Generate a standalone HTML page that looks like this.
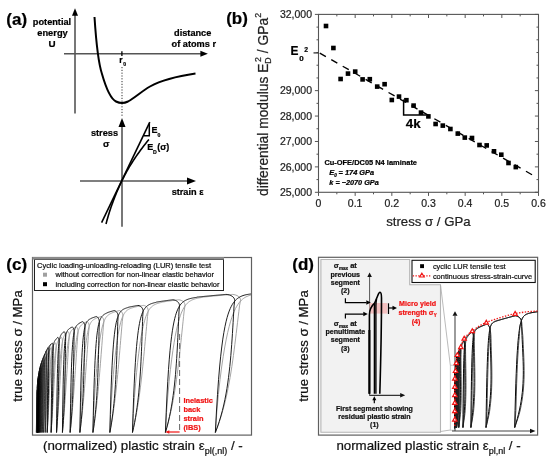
<!DOCTYPE html>
<html><head><meta charset="utf-8"><style>
html,body{margin:0;padding:0;background:#fff;}
svg{display:block;font-family:'Liberation Sans', Arial, sans-serif;filter:blur(0.3px);}
</style></head><body>
<svg width="550" height="461" viewBox="0 0 550 461">
<defs><clipPath id="clipc"><rect x="33" y="258" width="218" height="176"/></clipPath><clipPath id="clipd"><rect x="441" y="258" width="96.5" height="176"/></clipPath></defs>
<text x="6.3" y="25.3" font-size="17" font-weight="bold" text-anchor="start" fill="#000"  stroke="#000" stroke-width="0.22">(a)</text>
<text x="52" y="24.5" font-size="9.2" font-weight="bold" text-anchor="middle" fill="#000"  stroke="#000" stroke-width="0.22">potential</text>
<text x="52.5" y="35.8" font-size="9.3" font-weight="bold" text-anchor="middle" fill="#000"  stroke="#000" stroke-width="0.22">energy</text>
<text x="52" y="47" font-size="9.8" font-weight="bold" text-anchor="middle" fill="#000"  stroke="#000" stroke-width="0.22">U</text>
<line x1="75" y1="113.5" x2="75" y2="15" stroke="#555" stroke-width="1.6"/>
<path d="M75,8.3 L72.0,15.8 L78.0,15.8 Z" fill="#000"/>
<line x1="64" y1="53.7" x2="201" y2="53.7" stroke="#555" stroke-width="1.6"/>
<path d="M207.9,53.7 L200.4,50.7 L200.4,56.7 Z" fill="#000"/>
<line x1="121.9" y1="51.3" x2="121.9" y2="56" stroke="#000" stroke-width="1.3"/>
<text x="119.2" y="63" font-size="8.5" font-weight="bold" text-anchor="start" fill="#000"  stroke="#000" stroke-width="0.22">r</text>
<text x="123.2" y="65.5" font-size="5" font-weight="bold" text-anchor="start" fill="#000"  stroke="#000" stroke-width="0.22">0</text>
<line x1="122" y1="67" x2="122" y2="117" stroke="#333" stroke-width="1" stroke-dasharray="1.2,1.6"/>
<path d="M94.5,17 C96,40 98,62 102,74 C106,88 111,99 116,101.5 C119,103 124,103.5 128,101.5 C136,97 142,91 150,86.5 C162,80 176,76.5 195.5,73.6" fill="none" stroke="#000" stroke-width="2"/>
<text x="192.7" y="35.9" font-size="9.2" font-weight="bold" text-anchor="middle" fill="#000"  stroke="#000" stroke-width="0.22">distance</text>
<text x="193.8" y="47.4" font-size="9.2" font-weight="bold" text-anchor="middle" fill="#000"  stroke="#000" stroke-width="0.22">of atoms r</text>
<line x1="122" y1="226.7" x2="122" y2="126" stroke="#555" stroke-width="1.6"/>
<path d="M122,118 L118.5,127 L125.5,127 Z" fill="#000"/>
<line x1="80" y1="181" x2="188" y2="181" stroke="#555" stroke-width="1.6"/>
<path d="M196,181 L187,177.5 L187,184.5 Z" fill="#000"/>
<text x="104.5" y="136.2" font-size="9.2" font-weight="bold" text-anchor="middle" fill="#000"  stroke="#000" stroke-width="0.22">stress</text>
<text x="106.2" y="147" font-size="9.5" font-weight="bold" text-anchor="middle" fill="#000"  stroke="#000" stroke-width="0.22">σ</text>
<text x="187.6" y="194.8" font-size="9.2" font-weight="bold" text-anchor="middle" fill="#000"  stroke="#000" stroke-width="0.22">strain ε</text>
<path d="M101.6,222.6 L149.8,122.1" stroke="#000" stroke-width="1.6" fill="none"/>
<polyline points="106.02,224.00 106.57,221.89 107.14,219.78 107.74,217.66 108.36,215.55 109.00,213.44 109.67,211.32 110.36,209.21 111.07,207.10 111.81,204.99 112.57,202.88 113.35,200.76 114.16,198.65 114.99,196.54 115.84,194.43 116.71,192.31 117.61,190.20 118.54,188.09 119.48,185.97 120.45,183.86 121.44,181.75 122.46,179.64 123.52,177.53 124.61,175.41 125.74,173.30 126.90,171.19 128.11,169.07 129.35,166.96 130.63,164.85 131.95,162.74 133.30,160.62 134.70,158.51 136.13,156.40 137.59,154.29 139.10,152.18 140.64,150.06 142.22,147.95 143.84,145.84 145.49,143.72 147.18,141.61 148.91,139.50" stroke="#000" stroke-width="1.6" fill="none"/>
<path d="M149.3,123.5 L149.3,135.8 L144,135.8" stroke="#000" stroke-width="1.5" fill="none"/>
<text x="151.5" y="133" font-size="9" font-weight="bold" text-anchor="start" fill="#000"  stroke="#000" stroke-width="0.22">E</text>
<text x="157.4" y="137.0" font-size="5.2" font-weight="bold" text-anchor="start" fill="#000"  stroke="#000" stroke-width="0.22">0</text>
<text x="147.3" y="150.4" font-size="9" font-weight="bold" text-anchor="start" fill="#000"  stroke="#000" stroke-width="0.22">E</text>
<text x="152.9" y="154.0" font-size="5.2" font-weight="bold" text-anchor="start" fill="#000"  stroke="#000" stroke-width="0.22">D</text>
<text x="157.2" y="150.4" font-size="9" font-weight="bold" text-anchor="start" fill="#000"  stroke="#000" stroke-width="0.22">(σ)</text>
<text x="226.2" y="24" font-size="17" font-weight="bold" text-anchor="start" fill="#000"  stroke="#000" stroke-width="0.22">(b)</text>
<rect x="318.5" y="14.4" width="220.0" height="177.9" fill="none" stroke="#555" stroke-width="1.1"/>
<line x1="318.50" y1="192.3" x2="318.50" y2="195.9" stroke="#555" stroke-width="1"/>
<line x1="318.50" y1="14.4" x2="318.50" y2="18.0" stroke="#555" stroke-width="1"/>
<text x="318.50" y="207" font-size="10.5" font-weight="normal" text-anchor="middle" fill="#222"  stroke="#222" stroke-width="0.22">0</text>
<line x1="336.83" y1="192.3" x2="336.83" y2="194.3" stroke="#555" stroke-width="1"/>
<line x1="336.83" y1="14.4" x2="336.83" y2="16.4" stroke="#555" stroke-width="1"/>
<line x1="355.17" y1="192.3" x2="355.17" y2="195.9" stroke="#555" stroke-width="1"/>
<line x1="355.17" y1="14.4" x2="355.17" y2="18.0" stroke="#555" stroke-width="1"/>
<text x="355.17" y="207" font-size="10.5" font-weight="normal" text-anchor="middle" fill="#222"  stroke="#222" stroke-width="0.22">0.1</text>
<line x1="373.50" y1="192.3" x2="373.50" y2="194.3" stroke="#555" stroke-width="1"/>
<line x1="373.50" y1="14.4" x2="373.50" y2="16.4" stroke="#555" stroke-width="1"/>
<line x1="391.83" y1="192.3" x2="391.83" y2="195.9" stroke="#555" stroke-width="1"/>
<line x1="391.83" y1="14.4" x2="391.83" y2="18.0" stroke="#555" stroke-width="1"/>
<text x="391.83" y="207" font-size="10.5" font-weight="normal" text-anchor="middle" fill="#222"  stroke="#222" stroke-width="0.22">0.2</text>
<line x1="410.17" y1="192.3" x2="410.17" y2="194.3" stroke="#555" stroke-width="1"/>
<line x1="410.17" y1="14.4" x2="410.17" y2="16.4" stroke="#555" stroke-width="1"/>
<line x1="428.50" y1="192.3" x2="428.50" y2="195.9" stroke="#555" stroke-width="1"/>
<line x1="428.50" y1="14.4" x2="428.50" y2="18.0" stroke="#555" stroke-width="1"/>
<text x="428.50" y="207" font-size="10.5" font-weight="normal" text-anchor="middle" fill="#222"  stroke="#222" stroke-width="0.22">0.3</text>
<line x1="446.83" y1="192.3" x2="446.83" y2="194.3" stroke="#555" stroke-width="1"/>
<line x1="446.83" y1="14.4" x2="446.83" y2="16.4" stroke="#555" stroke-width="1"/>
<line x1="465.17" y1="192.3" x2="465.17" y2="195.9" stroke="#555" stroke-width="1"/>
<line x1="465.17" y1="14.4" x2="465.17" y2="18.0" stroke="#555" stroke-width="1"/>
<text x="465.17" y="207" font-size="10.5" font-weight="normal" text-anchor="middle" fill="#222"  stroke="#222" stroke-width="0.22">0.4</text>
<line x1="483.50" y1="192.3" x2="483.50" y2="194.3" stroke="#555" stroke-width="1"/>
<line x1="483.50" y1="14.4" x2="483.50" y2="16.4" stroke="#555" stroke-width="1"/>
<line x1="501.83" y1="192.3" x2="501.83" y2="195.9" stroke="#555" stroke-width="1"/>
<line x1="501.83" y1="14.4" x2="501.83" y2="18.0" stroke="#555" stroke-width="1"/>
<text x="501.83" y="207" font-size="10.5" font-weight="normal" text-anchor="middle" fill="#222"  stroke="#222" stroke-width="0.22">0.5</text>
<line x1="520.17" y1="192.3" x2="520.17" y2="194.3" stroke="#555" stroke-width="1"/>
<line x1="520.17" y1="14.4" x2="520.17" y2="16.4" stroke="#555" stroke-width="1"/>
<line x1="538.50" y1="192.3" x2="538.50" y2="195.9" stroke="#555" stroke-width="1"/>
<line x1="538.50" y1="14.4" x2="538.50" y2="18.0" stroke="#555" stroke-width="1"/>
<text x="538.50" y="207" font-size="10.5" font-weight="normal" text-anchor="middle" fill="#222"  stroke="#222" stroke-width="0.22">0.6</text>
<line x1="318.5" y1="192.30" x2="314.9" y2="192.30" stroke="#555" stroke-width="1"/>
<line x1="538.5" y1="192.30" x2="534.9" y2="192.30" stroke="#555" stroke-width="1"/>
<text x="312" y="196.00" font-size="10.5" font-weight="normal" text-anchor="end" fill="#222"  stroke="#222" stroke-width="0.22">25,000</text>
<line x1="318.5" y1="179.59" x2="316.5" y2="179.59" stroke="#555" stroke-width="1"/>
<line x1="538.5" y1="179.59" x2="536.5" y2="179.59" stroke="#555" stroke-width="1"/>
<line x1="318.5" y1="166.89" x2="314.9" y2="166.89" stroke="#555" stroke-width="1"/>
<line x1="538.5" y1="166.89" x2="534.9" y2="166.89" stroke="#555" stroke-width="1"/>
<text x="312" y="170.59" font-size="10.5" font-weight="normal" text-anchor="end" fill="#222"  stroke="#222" stroke-width="0.22">26,000</text>
<line x1="318.5" y1="154.18" x2="316.5" y2="154.18" stroke="#555" stroke-width="1"/>
<line x1="538.5" y1="154.18" x2="536.5" y2="154.18" stroke="#555" stroke-width="1"/>
<line x1="318.5" y1="141.47" x2="314.9" y2="141.47" stroke="#555" stroke-width="1"/>
<line x1="538.5" y1="141.47" x2="534.9" y2="141.47" stroke="#555" stroke-width="1"/>
<text x="312" y="145.17" font-size="10.5" font-weight="normal" text-anchor="end" fill="#222"  stroke="#222" stroke-width="0.22">27,000</text>
<line x1="318.5" y1="128.76" x2="316.5" y2="128.76" stroke="#555" stroke-width="1"/>
<line x1="538.5" y1="128.76" x2="536.5" y2="128.76" stroke="#555" stroke-width="1"/>
<line x1="318.5" y1="116.06" x2="314.9" y2="116.06" stroke="#555" stroke-width="1"/>
<line x1="538.5" y1="116.06" x2="534.9" y2="116.06" stroke="#555" stroke-width="1"/>
<text x="312" y="119.76" font-size="10.5" font-weight="normal" text-anchor="end" fill="#222"  stroke="#222" stroke-width="0.22">28,000</text>
<line x1="318.5" y1="103.35" x2="316.5" y2="103.35" stroke="#555" stroke-width="1"/>
<line x1="538.5" y1="103.35" x2="536.5" y2="103.35" stroke="#555" stroke-width="1"/>
<line x1="318.5" y1="90.64" x2="314.9" y2="90.64" stroke="#555" stroke-width="1"/>
<line x1="538.5" y1="90.64" x2="534.9" y2="90.64" stroke="#555" stroke-width="1"/>
<text x="312" y="94.34" font-size="10.5" font-weight="normal" text-anchor="end" fill="#222"  stroke="#222" stroke-width="0.22">29,000</text>
<line x1="318.5" y1="77.94" x2="316.5" y2="77.94" stroke="#555" stroke-width="1"/>
<line x1="538.5" y1="77.94" x2="536.5" y2="77.94" stroke="#555" stroke-width="1"/>
<line x1="318.5" y1="65.23" x2="316.5" y2="65.23" stroke="#555" stroke-width="1"/>
<line x1="538.5" y1="65.23" x2="536.5" y2="65.23" stroke="#555" stroke-width="1"/>
<line x1="318.5" y1="52.52" x2="316.5" y2="52.52" stroke="#555" stroke-width="1"/>
<line x1="538.5" y1="52.52" x2="536.5" y2="52.52" stroke="#555" stroke-width="1"/>
<line x1="318.5" y1="39.81" x2="316.5" y2="39.81" stroke="#555" stroke-width="1"/>
<line x1="538.5" y1="39.81" x2="536.5" y2="39.81" stroke="#555" stroke-width="1"/>
<line x1="318.5" y1="27.11" x2="316.5" y2="27.11" stroke="#555" stroke-width="1"/>
<line x1="538.5" y1="27.11" x2="536.5" y2="27.11" stroke="#555" stroke-width="1"/>
<line x1="318.5" y1="14.40" x2="314.9" y2="14.40" stroke="#555" stroke-width="1"/>
<line x1="538.5" y1="14.40" x2="534.9" y2="14.40" stroke="#555" stroke-width="1"/>
<text x="312" y="18.10" font-size="10.5" font-weight="normal" text-anchor="end" fill="#222"  stroke="#222" stroke-width="0.22">32,000</text>
<text x="290.6" y="55.3" font-size="11.9" font-weight="bold" text-anchor="start" fill="#000"  stroke="#000" stroke-width="0.22">E</text>
<text x="299.3" y="60.7" font-size="8" font-weight="bold" text-anchor="start" fill="#000"  stroke="#000" stroke-width="0.22">0</text>
<text x="304.3" y="51.8" font-size="6.8" font-weight="bold" text-anchor="start" fill="#000"  stroke="#000" stroke-width="0.22">2</text>
<line x1="318.5" y1="52.9" x2="313.5" y2="52.9" stroke="#333" stroke-width="1.3"/>
<line x1="319.8" y1="53.1" x2="532.7" y2="175.1" stroke="#000" stroke-width="1.35" stroke-dasharray="7,6.2"/>
<rect x="323.7" y="23.7" width="4.6" height="4.6" fill="#000"/>
<rect x="331.1" y="45.7" width="4.6" height="4.6" fill="#000"/>
<rect x="338.3" y="76.7" width="4.6" height="4.6" fill="#000"/>
<rect x="345.7" y="71.3" width="4.6" height="4.6" fill="#000"/>
<rect x="352.9" y="69.3" width="4.6" height="4.6" fill="#000"/>
<rect x="360.3" y="77.1" width="4.6" height="4.6" fill="#000"/>
<rect x="367.5" y="76.9" width="4.6" height="4.6" fill="#000"/>
<rect x="374.9" y="84.3" width="4.6" height="4.6" fill="#000"/>
<rect x="382.3" y="81.9" width="4.6" height="4.6" fill="#000"/>
<rect x="389.5" y="97.7" width="4.6" height="4.6" fill="#000"/>
<rect x="396.7" y="94.3" width="4.6" height="4.6" fill="#000"/>
<rect x="404.1" y="97.9" width="4.6" height="4.6" fill="#000"/>
<rect x="411.3" y="103.3" width="4.6" height="4.6" fill="#000"/>
<rect x="418.7" y="110.3" width="4.6" height="4.6" fill="#000"/>
<rect x="426.1" y="114.1" width="4.6" height="4.6" fill="#000"/>
<rect x="433.3" y="121.7" width="4.6" height="4.6" fill="#000"/>
<rect x="440.5" y="123.3" width="4.6" height="4.6" fill="#000"/>
<rect x="448.1" y="126.7" width="4.6" height="4.6" fill="#000"/>
<rect x="455.5" y="131.3" width="4.6" height="4.6" fill="#000"/>
<rect x="462.5" y="135.3" width="4.6" height="4.6" fill="#000"/>
<rect x="469.7" y="135.7" width="4.6" height="4.6" fill="#000"/>
<rect x="477.2" y="142.7" width="4.6" height="4.6" fill="#000"/>
<rect x="484.4" y="143.1" width="4.6" height="4.6" fill="#000"/>
<rect x="491.7" y="149.0" width="4.6" height="4.6" fill="#000"/>
<rect x="499.0" y="152.4" width="4.6" height="4.6" fill="#000"/>
<rect x="506.2" y="160.7" width="4.6" height="4.6" fill="#000"/>
<rect x="513.5" y="164.8" width="4.6" height="4.6" fill="#000"/>
<path d="M403.6,99.5 L403.6,115 L426,115" stroke="#000" stroke-width="1.5" fill="none"/>
<text x="405.8" y="128.3" font-size="13.4" font-weight="bold" text-anchor="start" fill="#000"  stroke="#000" stroke-width="0.22">4k</text>
<text x="324.4" y="164.5" font-size="8" font-weight="bold" text-anchor="start" fill="#000" textLength="92.6" lengthAdjust="spacingAndGlyphs" stroke="#000" stroke-width="0.22">Cu-OFE/DC05 N4 laminate</text>
<text x="329.3" y="175.1" font-size="7.5" font-weight="bold" text-anchor="start" fill="#000" font-style="italic"  stroke="#000" stroke-width="0.22">E</text>
<text x="334.3" y="177.3" font-size="4.5" font-weight="bold" text-anchor="start" fill="#000" font-style="italic"  stroke="#000" stroke-width="0.22">0</text>
<text x="338.6" y="175.1" font-size="7.4" font-weight="bold" text-anchor="start" fill="#000" font-style="italic"  stroke="#000" stroke-width="0.22">= 174 GPa</text>
<text x="329.3" y="185.1" font-size="7.3" font-weight="bold" text-anchor="start" fill="#000" font-style="italic"  stroke="#000" stroke-width="0.22">k = −2070 GPa</text>
<text x="428.4" y="225.9" font-size="13.2" font-weight="normal" text-anchor="middle" fill="#222"  stroke="#222" stroke-width="0.22">stress σ / GPa</text>
<text transform="translate(267.5,104.5) rotate(-90)" font-size="13.8" text-anchor="middle" fill="#222" stroke="#222" stroke-width="0.22">differential modulus E<tspan font-size="8.8" dy="3.2">D</tspan><tspan font-size="8.8" dy="-9.6" dx="-4.6">2</tspan><tspan dy="6.4"> / GPa</tspan><tspan font-size="8.8" dy="-6.4">2</tspan></text>
<text x="6.3" y="270" font-size="17" font-weight="bold" text-anchor="start" fill="#000"  stroke="#000" stroke-width="0.22">(c)</text>
<g clip-path="url(#clipc)">
<path d="M36.40,432.50 L37.51,396.57 L38.03,390.32 L38.10,390.36 L38.16,390.43 L38.21,390.52 L38.25,390.64 L38.29,390.78 L38.32,390.95 L38.33,391.13 L38.33,391.33 L38.26,393.04 L38.20,394.76 L38.13,396.48 L38.07,398.19 L38.01,399.91 L37.95,401.62 L37.89,403.34 L37.84,405.05 L37.78,406.77 L37.73,408.48 L37.67,410.20 L37.62,411.91 L37.57,413.63 L37.52,415.35 L37.47,417.06 L37.43,418.78 L37.38,420.49 L37.34,422.21 L37.29,423.92 L37.25,425.64 L37.21,427.35 L37.17,429.07 L37.13,430.78 L37.10,432.50 L37.18,425.90 L37.30,420.23 L37.42,415.34 L37.55,411.13 L37.66,407.51 L37.77,404.38 L37.87,401.67 L37.97,399.33 L38.05,397.30 L38.13,395.53 L38.20,393.99 L38.26,392.64 L38.32,391.46 L38.38,390.42 L38.43,389.50 L38.48,388.69 L38.52,387.96 L38.56,387.31 L38.60,386.72 L38.64,386.20 L38.67,385.72 L38.71,385.28 L38.74,384.87 L38.77,384.51 L38.80,384.18 L38.83,383.86 L38.86,383.57 L38.89,383.29 L38.91,383.04 L38.94,382.80 L38.97,382.57 L38.99,382.35 L39.02,382.14 L39.04,381.94 L39.06,381.76 L39.09,381.57 L39.11,381.39 L39.14,381.22 L39.16,381.06 L39.18,380.90 L38.35,387.97 L38.42,388.03 L38.47,388.13 L38.52,388.26 L38.55,388.41 L38.58,388.58 L38.59,388.77 L38.59,388.98 L38.52,390.79 L38.45,392.60 L38.38,394.42 L38.31,396.23 L38.24,398.04 L38.18,399.86 L38.11,401.67 L38.05,403.48 L37.99,405.30 L37.93,407.11 L37.87,408.93 L37.82,410.74 L37.76,412.55 L37.71,414.37 L37.65,416.18 L37.60,417.99 L37.55,419.81 L37.50,421.62 L37.45,423.43 L37.40,425.25 L37.36,427.06 L37.31,428.87 L37.27,430.69 L37.23,432.50 L37.32,425.65 L37.44,419.76 L37.57,414.70 L37.70,410.35 L37.82,406.60 L37.93,403.36 L38.04,400.56 L38.14,398.14 L38.22,396.04 L38.30,394.22 L38.38,392.63 L38.44,391.25 L38.51,390.04 L38.56,388.97 L38.62,388.03 L38.66,387.22 L38.71,386.49 L38.75,385.84 L38.79,385.26 L38.83,384.74 L38.86,384.28 L38.89,383.86 L38.93,383.48 L38.96,383.13 L38.99,382.81 L39.01,382.52 L39.04,382.25 L39.07,382.00 L39.10,381.76 L39.12,381.53 L39.15,381.33 L39.17,381.13 L39.19,380.94 L39.22,380.76 L39.24,380.59 L39.27,380.42 L39.29,380.27 L39.31,380.11 L39.33,379.96 L39.36,379.81 L38.66,385.38 L38.72,385.45 L38.78,385.55 L38.83,385.68 L38.86,385.84 L38.89,386.02 L38.90,386.22 L38.90,386.44 L38.82,388.36 L38.74,390.28 L38.67,392.20 L38.59,394.12 L38.52,396.03 L38.45,397.95 L38.38,399.87 L38.31,401.79 L38.24,403.71 L38.18,405.63 L38.11,407.55 L38.05,409.47 L37.99,411.39 L37.93,413.31 L37.87,415.23 L37.81,417.15 L37.75,419.07 L37.70,420.98 L37.64,422.90 L37.59,424.82 L37.53,426.74 L37.48,428.66 L37.43,430.58 L37.39,432.50 L37.48,425.35 L37.61,419.21 L37.75,413.93 L37.88,409.39 L38.01,405.48 L38.13,402.11 L38.25,399.21 L38.35,396.70 L38.44,394.53 L38.53,392.65 L38.60,391.02 L38.67,389.61 L38.74,388.38 L38.80,387.30 L38.85,386.36 L38.90,385.53 L38.95,384.81 L38.99,384.16 L39.03,383.59 L39.07,383.08 L39.10,382.63 L39.14,382.22 L39.17,381.85 L39.20,381.52 L39.23,381.22 L39.26,380.94 L39.29,380.68 L39.31,380.44 L39.34,380.22 L39.37,380.01 L39.39,379.82 L39.42,379.64 L39.44,379.46 L39.46,379.29 L39.49,379.13 L39.51,378.98 L39.54,378.83 L39.56,378.69 L39.58,378.54 L39.61,378.41 L39.03,382.46 L39.09,382.54 L39.15,382.65 L39.20,382.78 L39.24,382.95 L39.26,383.14 L39.27,383.35 L39.27,383.59 L39.18,385.62 L39.10,387.66 L39.01,389.70 L38.93,391.74 L38.85,393.78 L38.77,395.81 L38.69,397.85 L38.62,399.89 L38.54,401.93 L38.47,403.97 L38.40,406.00 L38.33,408.04 L38.26,410.08 L38.20,412.12 L38.13,414.16 L38.06,416.20 L38.00,418.23 L37.94,420.27 L37.87,422.31 L37.81,424.35 L37.75,426.39 L37.69,428.42 L37.63,430.46 L37.58,432.50 L37.68,425.02 L37.82,418.59 L37.97,413.07 L38.12,408.32 L38.26,404.24 L38.39,400.72 L38.51,397.69 L38.62,395.09 L38.73,392.83 L38.82,390.88 L38.90,389.19 L38.98,387.73 L39.05,386.46 L39.11,385.34 L39.17,384.37 L39.23,383.53 L39.28,382.78 L39.33,382.12 L39.37,381.53 L39.42,381.02 L39.46,380.56 L39.49,380.14 L39.53,379.76 L39.57,379.42 L39.60,379.12 L39.63,378.83 L39.66,378.57 L39.70,378.32 L39.73,378.10 L39.76,377.88 L39.79,377.68 L39.82,377.49 L39.84,377.30 L39.87,377.13 L39.90,376.96 L39.93,376.80 L39.96,376.64 L39.99,376.48 L40.01,376.33 L40.04,376.18 L39.44,379.74 L39.51,379.82 L39.57,379.94 L39.62,380.09 L39.66,380.26 L39.68,380.47 L39.70,380.69 L39.69,380.94 L39.59,383.09 L39.50,385.24 L39.41,387.39 L39.32,389.53 L39.23,391.68 L39.15,393.83 L39.06,395.98 L38.98,398.13 L38.90,400.28 L38.82,402.42 L38.74,404.57 L38.66,406.72 L38.59,408.87 L38.51,411.02 L38.44,413.17 L38.37,415.31 L38.29,417.46 L38.22,419.61 L38.15,421.76 L38.08,423.91 L38.01,426.06 L37.94,428.20 L37.87,430.35 L37.81,432.50 L37.92,424.69 L38.07,417.99 L38.24,412.23 L38.40,407.29 L38.55,403.04 L38.69,399.38 L38.83,396.24 L38.95,393.53 L39.06,391.19 L39.16,389.16 L39.25,387.41 L39.34,385.90 L39.41,384.58 L39.49,383.42 L39.55,382.42 L39.61,381.54 L39.67,380.76 L39.73,380.07 L39.78,379.47 L39.82,378.92 L39.87,378.44 L39.91,378.00 L39.96,377.60 L40.00,377.24 L40.04,376.91 L40.08,376.60 L40.11,376.32 L40.15,376.05 L40.19,375.80 L40.22,375.56 L40.26,375.34 L40.29,375.12 L40.33,374.92 L40.36,374.72 L40.40,374.52 L40.43,374.34 L40.46,374.16 L40.50,373.98 L40.53,373.81 L40.56,373.64 L39.92,377.18 L39.99,377.26 L40.05,377.39 L40.10,377.55 L40.14,377.74 L40.17,377.96 L40.18,378.20 L40.18,378.47 L40.07,380.72 L39.97,382.97 L39.87,385.22 L39.77,387.47 L39.68,389.73 L39.58,391.98 L39.49,394.23 L39.40,396.48 L39.31,398.73 L39.23,400.98 L39.14,403.23 L39.06,405.48 L38.97,407.74 L38.89,409.99 L38.81,412.24 L38.73,414.49 L38.65,416.74 L38.57,418.99 L38.49,421.24 L38.40,423.49 L38.32,425.75 L38.24,428.00 L38.17,430.25 L38.09,432.50 L38.21,424.37 L38.38,417.39 L38.56,411.41 L38.73,406.26 L38.90,401.84 L39.05,398.04 L39.20,394.76 L39.33,391.94 L39.45,389.50 L39.56,387.39 L39.67,385.55 L39.76,383.96 L39.85,382.58 L39.93,381.36 L40.00,380.30 L40.07,379.37 L40.14,378.54 L40.20,377.81 L40.26,377.15 L40.32,376.57 L40.37,376.04 L40.42,375.57 L40.47,375.14 L40.52,374.74 L40.57,374.37 L40.61,374.04 L40.66,373.73 L40.70,373.44 L40.74,373.16 L40.79,372.90 L40.83,372.66 L40.87,372.43 L40.91,372.20 L40.95,371.99 L40.99,371.78 L41.03,371.58 L41.07,371.39 L41.11,371.20 L41.15,371.02 L41.19,370.84 L40.48,374.40 L40.56,374.49 L40.62,374.63 L40.68,374.80 L40.72,375.01 L40.75,375.25 L40.76,375.51 L40.75,375.80 L40.64,378.16 L40.53,380.53 L40.42,382.89 L40.31,385.25 L40.21,387.61 L40.11,389.98 L40.01,392.34 L39.91,394.70 L39.81,397.06 L39.72,399.43 L39.62,401.79 L39.53,404.15 L39.44,406.51 L39.35,408.88 L39.25,411.24 L39.16,413.60 L39.07,415.96 L38.98,418.33 L38.89,420.69 L38.80,423.05 L38.71,425.41 L38.61,427.78 L38.52,430.14 L38.43,432.50 L38.57,424.03 L38.75,416.76 L38.94,410.52 L39.13,405.15 L39.32,400.53 L39.49,396.55 L39.64,393.11 L39.79,390.15 L39.93,387.58 L40.05,385.36 L40.17,383.43 L40.27,381.74 L40.37,380.28 L40.46,379.00 L40.55,377.87 L40.63,376.88 L40.70,376.01 L40.77,375.23 L40.84,374.54 L40.91,373.92 L40.97,373.37 L41.03,372.86 L41.09,372.41 L41.14,372.00 L41.20,371.62 L41.25,371.26 L41.30,370.94 L41.35,370.64 L41.40,370.36 L41.45,370.09 L41.50,369.84 L41.55,369.60 L41.60,369.38 L41.65,369.16 L41.69,368.95 L41.74,368.75 L41.79,368.56 L41.83,368.37 L41.88,368.19 L41.93,368.01 L41.16,371.30 L41.24,371.41 L41.31,371.56 L41.37,371.75 L41.41,371.97 L41.44,372.24 L41.45,372.53 L41.45,372.84 L41.32,375.33 L41.20,377.82 L41.08,380.30 L40.96,382.79 L40.85,385.27 L40.74,387.76 L40.63,390.24 L40.52,392.73 L40.42,395.22 L40.31,397.70 L40.21,400.19 L40.11,402.67 L40.01,405.16 L39.91,407.64 L39.80,410.13 L39.70,412.61 L39.60,415.10 L39.50,417.59 L39.40,420.07 L39.30,422.56 L39.19,425.04 L39.09,427.53 L38.98,430.01 L38.88,432.50 L39.02,423.62 L39.22,415.99 L39.44,409.44 L39.64,403.81 L39.84,398.96 L40.03,394.78 L40.21,391.18 L40.37,388.07 L40.52,385.38 L40.65,383.06 L40.78,381.04 L40.90,379.29 L41.00,377.76 L41.10,376.43 L41.20,375.27 L41.29,374.24 L41.37,373.34 L41.45,372.54 L41.53,371.84 L41.60,371.20 L41.67,370.64 L41.74,370.14 L41.80,369.68 L41.86,369.26 L41.93,368.89 L41.99,368.54 L42.04,368.22 L42.10,367.92 L42.16,367.64 L42.22,367.39 L42.27,367.14 L42.33,366.91 L42.38,366.69 L42.43,366.48 L42.49,366.28 L42.54,366.09 L42.59,365.90 L42.65,365.72 L42.70,365.55 L42.75,365.38 L41.96,368.19 L42.04,368.31 L42.12,368.47 L42.18,368.68 L42.22,368.94 L42.25,369.23 L42.27,369.55 L42.26,369.90 L42.12,372.51 L41.99,375.12 L41.86,377.72 L41.74,380.33 L41.62,382.94 L41.50,385.55 L41.38,388.16 L41.27,390.77 L41.15,393.37 L41.04,395.98 L40.93,398.59 L40.82,401.20 L40.71,403.81 L40.60,406.42 L40.49,409.02 L40.39,411.63 L40.28,414.24 L40.17,416.85 L40.06,419.46 L39.95,422.07 L39.83,424.67 L39.72,427.28 L39.61,429.89 L39.50,432.50 L39.65,423.12 L39.87,415.08 L40.10,408.19 L40.32,402.27 L40.54,397.18 L40.74,392.82 L40.93,389.06 L41.10,385.82 L41.26,383.03 L41.40,380.63 L41.54,378.55 L41.66,376.75 L41.78,375.18 L41.89,373.83 L41.99,372.64 L42.08,371.61 L42.17,370.70 L42.25,369.90 L42.33,369.20 L42.41,368.58 L42.48,368.02 L42.55,367.52 L42.62,367.07 L42.69,366.67 L42.75,366.30 L42.82,365.96 L42.88,365.65 L42.94,365.37 L43.00,365.10 L43.06,364.85 L43.12,364.61 L43.18,364.39 L43.23,364.18 L43.29,363.98 L43.35,363.79 L43.40,363.60 L43.46,363.43 L43.52,363.25 L43.57,363.08 L43.63,362.92 L42.90,365.21 L42.99,365.34 L43.07,365.52 L43.13,365.76 L43.18,366.04 L43.21,366.36 L43.23,366.72 L43.22,367.11 L43.07,369.84 L42.93,372.56 L42.79,375.29 L42.66,378.01 L42.53,380.74 L42.40,383.46 L42.28,386.19 L42.15,388.91 L42.03,391.63 L41.91,394.36 L41.79,397.08 L41.67,399.81 L41.56,402.53 L41.44,405.26 L41.32,407.98 L41.21,410.70 L41.09,413.43 L40.97,416.15 L40.85,418.88 L40.73,421.60 L40.61,424.33 L40.49,427.05 L40.37,429.78 L40.25,432.50 L40.42,422.65 L40.65,414.21 L40.90,406.99 L41.14,400.80 L41.37,395.49 L41.59,390.94 L41.79,387.03 L41.97,383.66 L42.14,380.77 L42.30,378.28 L42.44,376.13 L42.57,374.27 L42.70,372.66 L42.81,371.26 L42.92,370.05 L43.02,368.99 L43.11,368.06 L43.20,367.25 L43.29,366.53 L43.37,365.90 L43.45,365.34 L43.52,364.84 L43.60,364.38 L43.67,363.98 L43.74,363.61 L43.81,363.27 L43.87,362.97 L43.94,362.68 L44.00,362.42 L44.07,362.17 L44.13,361.94 L44.19,361.72 L44.25,361.51 L44.32,361.32 L44.38,361.13 L44.44,360.95 L44.50,360.77 L44.56,360.60 L44.62,360.44 L44.68,360.28 L44.01,362.17 L44.11,362.32 L44.20,362.53 L44.27,362.79 L44.32,363.11 L44.35,363.47 L44.37,363.88 L44.36,364.32 L44.19,367.16 L44.04,370.00 L43.90,372.84 L43.76,375.68 L43.62,378.52 L43.48,381.37 L43.35,384.21 L43.22,387.05 L43.09,389.89 L42.96,392.73 L42.83,395.57 L42.70,398.41 L42.58,401.25 L42.45,404.09 L42.33,406.93 L42.20,409.77 L42.07,412.61 L41.95,415.46 L41.82,418.30 L41.69,421.14 L41.56,423.98 L41.42,426.82 L41.29,429.66 L41.16,432.50 L41.34,422.18 L41.59,413.36 L41.86,405.80 L42.12,399.33 L42.37,393.79 L42.60,389.04 L42.81,384.97 L43.01,381.46 L43.20,378.45 L43.36,375.86 L43.52,373.63 L43.66,371.71 L43.79,370.04 L43.92,368.60 L44.03,367.34 L44.14,366.25 L44.24,365.30 L44.34,364.46 L44.43,363.73 L44.52,363.08 L44.60,362.50 L44.69,361.99 L44.77,361.53 L44.84,361.12 L44.92,360.75 L44.99,360.41 L45.06,360.10 L45.14,359.81 L45.21,359.54 L45.28,359.30 L45.34,359.06 L45.41,358.85 L45.48,358.64 L45.55,358.44 L45.61,358.25 L45.68,358.07 L45.75,357.89 L45.81,357.72 L45.88,357.56 L45.94,357.40 L45.35,358.97 L45.45,359.14 L45.55,359.38 L45.62,359.68 L45.68,360.04 L45.72,360.45 L45.73,360.91 L45.72,361.42 L45.54,364.38 L45.38,367.34 L45.23,370.30 L45.08,373.26 L44.93,376.23 L44.78,379.19 L44.64,382.15 L44.50,385.11 L44.36,388.07 L44.22,391.04 L44.08,394.00 L43.94,396.96 L43.81,399.92 L43.67,402.88 L43.54,405.84 L43.40,408.81 L43.27,411.77 L43.13,414.73 L42.99,417.69 L42.85,420.65 L42.70,423.61 L42.55,426.58 L42.41,429.54 L42.26,432.50 L42.46,421.70 L42.74,412.47 L43.02,404.56 L43.30,397.80 L43.57,392.01 L43.82,387.05 L44.05,382.80 L44.27,379.15 L44.46,376.01 L44.65,373.31 L44.81,370.99 L44.97,368.98 L45.11,367.25 L45.24,365.75 L45.37,364.45 L45.49,363.32 L45.60,362.33 L45.70,361.47 L45.80,360.71 L45.90,360.04 L45.99,359.44 L46.08,358.91 L46.17,358.44 L46.25,358.01 L46.34,357.63 L46.42,357.28 L46.50,356.96 L46.58,356.66 L46.65,356.39 L46.73,356.13 L46.81,355.89 L46.88,355.67 L46.96,355.45 L47.03,355.25 L47.10,355.05 L47.18,354.86 L47.25,354.68 L47.32,354.51 L47.39,354.33 L47.47,354.16 L46.95,355.50 L47.07,355.69 L47.17,355.96 L47.25,356.31 L47.32,356.72 L47.36,357.20 L47.37,357.73 L47.35,358.30 L47.16,361.40 L46.99,364.49 L46.83,367.58 L46.66,370.67 L46.50,373.76 L46.35,376.85 L46.19,379.94 L46.04,383.04 L45.89,386.13 L45.74,389.22 L45.59,392.31 L45.45,395.40 L45.30,398.49 L45.15,401.59 L45.01,404.68 L44.86,407.77 L44.71,410.86 L44.56,413.95 L44.41,417.04 L44.25,420.13 L44.09,423.23 L43.93,426.32 L43.77,429.41 L43.61,432.50 L43.83,421.19 L44.12,411.51 L44.43,403.24 L44.73,396.16 L45.02,390.10 L45.29,384.91 L45.55,380.45 L45.78,376.63 L45.99,373.35 L46.19,370.53 L46.37,368.10 L46.54,366.00 L46.70,364.19 L46.85,362.62 L46.98,361.26 L47.11,360.07 L47.23,359.04 L47.35,358.14 L47.46,357.34 L47.57,356.64 L47.67,356.02 L47.77,355.47 L47.87,354.98 L47.96,354.53 L48.05,354.13 L48.14,353.77 L48.23,353.43 L48.32,353.13 L48.40,352.85 L48.49,352.58 L48.57,352.34 L48.65,352.10 L48.74,351.88 L48.82,351.68 L48.90,351.48 L48.98,351.29 L49.06,351.10 L49.14,350.92 L49.22,350.75 L49.30,350.59 L48.89,351.64 L49.02,351.86 L49.13,352.17 L49.22,352.57 L49.29,353.05 L49.33,353.60 L49.35,354.21 L49.33,354.88 L49.12,358.11 L48.94,361.34 L48.76,364.58 L48.58,367.81 L48.41,371.05 L48.24,374.28 L48.07,377.52 L47.91,380.75 L47.75,383.98 L47.58,387.22 L47.42,390.45 L47.27,393.69 L47.11,396.92 L46.95,400.16 L46.79,403.39 L46.62,406.63 L46.46,409.86 L46.30,413.09 L46.13,416.33 L45.95,419.56 L45.78,422.80 L45.60,426.03 L45.42,429.27 L45.24,432.50 L45.48,420.61 L45.80,410.45 L46.14,401.76 L46.47,394.33 L46.78,387.97 L47.08,382.52 L47.35,377.84 L47.61,373.83 L47.84,370.39 L48.06,367.43 L48.26,364.89 L48.44,362.69 L48.62,360.80 L48.78,359.15 L48.93,357.74 L49.07,356.50 L49.21,355.43 L49.33,354.49 L49.46,353.66 L49.58,352.94 L49.69,352.31 L49.80,351.74 L49.91,351.24 L50.01,350.79 L50.11,350.38 L50.21,350.02 L50.31,349.69 L50.41,349.38 L50.50,349.11 L50.60,348.86 L50.69,348.62 L50.78,348.40 L50.87,348.20 L50.96,348.01 L51.05,347.83 L51.14,347.66 L51.23,347.50 L51.32,347.34 L51.41,347.20 L51.50,347.06 L52.85,345.40 L54.18,344.18" fill="none" stroke="#9a9a9a" stroke-width="0.6" stroke-linejoin="round"/>
<path d="M36.40,432.50 L37.91,391.55 L38.68,384.55 L39.40,379.52 L40.05,376.07 L40.69,372.97 L41.32,370.22 L41.93,367.91 L42.53,365.96 L43.12,364.22 L43.70,362.64 L44.28,361.16 L44.85,359.77 L45.42,358.45 L45.99,357.19 L46.56,355.96 L47.12,354.77 L47.69,353.60 L48.25,352.47 L48.82,351.38 L49.38,350.34 L49.93,349.35 L50.49,348.42 L51.04,347.58 L51.20,347.71 L51.35,347.97 L51.48,348.33 L51.58,348.80 L51.66,349.35 L51.70,349.99 L51.72,350.70 L51.69,351.48 L51.46,354.85 L51.27,358.23 L51.07,361.61 L50.89,364.98 L50.70,368.36 L50.52,371.73 L50.34,375.11 L50.16,378.49 L49.98,381.86 L49.81,385.24 L49.63,388.61 L49.46,391.99 L49.29,395.36 L49.11,398.74 L48.94,402.12 L48.76,405.49 L48.58,408.87 L48.40,412.24 L48.21,415.62 L48.02,419.00 L47.83,422.37 L47.63,425.75 L47.42,429.12 L47.22,432.50 L47.48,420.01 L47.83,409.33 L48.20,400.21 L48.56,392.41 L48.91,385.74 L49.23,380.03 L49.53,375.15 L49.81,370.96 L50.07,367.38 L50.30,364.31 L50.52,361.66 L50.72,359.40 L50.91,357.45 L51.09,355.77 L51.25,354.33 L51.41,353.08 L51.56,352.00 L51.70,351.07 L51.83,350.26 L51.96,349.55 L52.09,348.94 L52.21,348.40 L52.32,347.93 L52.44,347.51 L52.55,347.15 L52.66,346.82 L52.77,346.53 L52.87,346.27 L52.98,346.04 L53.08,345.82 L53.18,345.63 L53.29,345.46 L53.39,345.29 L53.49,345.14 L53.59,345.00 L53.69,344.87 L53.79,344.74 L53.88,344.62 L53.98,344.51 L54.08,344.40 L54.74,343.67 L55.39,343.05 L55.59,343.23 L55.77,343.55 L55.92,344.01 L56.05,344.61 L56.14,345.32 L56.19,346.13 L56.20,347.04 L56.17,348.03 L55.91,351.55 L55.70,355.07 L55.49,358.59 L55.28,362.11 L55.08,365.63 L54.88,369.15 L54.68,372.67 L54.49,376.19 L54.29,379.70 L54.10,383.22 L53.91,386.74 L53.71,390.26 L53.52,393.78 L53.32,397.30 L53.13,400.82 L52.92,404.34 L52.72,407.86 L52.51,411.38 L52.29,414.90 L52.07,418.42 L51.84,421.94 L51.60,425.46 L51.36,428.98 L51.11,432.50 L51.41,419.28 L51.81,408.01 L52.22,398.39 L52.63,390.17 L53.01,383.16 L53.38,377.17 L53.72,372.05 L54.03,367.67 L54.32,363.93 L54.59,360.71 L54.84,357.96 L55.07,355.60 L55.29,353.56 L55.50,351.82 L55.69,350.31 L55.87,349.01 L56.05,347.89 L56.21,346.91 L56.37,346.06 L56.53,345.32 L56.68,344.67 L56.82,344.11 L56.96,343.60 L57.10,343.16 L57.24,342.76 L57.37,342.41 L57.50,342.09 L57.64,341.80 L57.76,341.54 L57.89,341.30 L58.02,341.08 L58.15,340.87 L58.27,340.68 L58.40,340.50 L58.52,340.33 L58.64,340.17 L58.77,340.01 L58.89,339.87 L59.01,339.72 L59.13,339.58 L59.91,338.73 L60.67,338.03 L61.44,337.33 L61.69,337.54 L61.91,337.93 L62.11,338.49 L62.26,339.20 L62.38,340.06 L62.45,341.04 L62.46,342.13 L62.43,343.33 L62.12,347.04 L61.88,350.76 L61.65,354.47 L61.42,358.19 L61.19,361.90 L60.97,365.62 L60.75,369.34 L60.53,373.05 L60.31,376.77 L60.09,380.48 L59.87,384.20 L59.65,387.91 L59.43,391.63 L59.20,395.34 L58.97,399.06 L58.73,402.78 L58.49,406.49 L58.24,410.21 L57.98,413.92 L57.71,417.64 L57.44,421.35 L57.15,425.07 L56.85,428.78 L56.54,432.50 L56.89,418.46 L57.34,406.48 L57.82,396.25 L58.28,387.52 L58.73,380.05 L59.15,373.67 L59.54,368.22 L59.91,363.55 L60.25,359.55 L60.56,356.12 L60.86,353.18 L61.13,350.65 L61.39,348.47 L61.64,346.59 L61.87,344.97 L62.09,343.57 L62.31,342.35 L62.51,341.29 L62.71,340.37 L62.90,339.56 L63.08,338.85 L63.26,338.22 L63.44,337.66 L63.62,337.17 L63.79,336.73 L63.96,336.33 L64.12,335.97 L64.29,335.64 L64.45,335.34 L64.61,335.07 L64.77,334.81 L64.93,334.57 L65.09,334.35 L65.25,334.15 L65.40,333.95 L65.56,333.76 L65.72,333.59 L65.87,333.42 L66.03,333.26 L66.18,333.10 L67.08,332.24 L67.97,331.59 L68.28,331.79 L68.56,332.19 L68.80,332.75 L69.00,333.46 L69.15,334.32 L69.24,335.30 L69.28,336.39 L69.24,337.59 L68.89,341.54 L68.63,345.49 L68.37,349.45 L68.11,353.40 L67.85,357.36 L67.60,361.31 L67.35,365.27 L67.10,369.22 L66.85,373.18 L66.61,377.13 L66.36,381.09 L66.10,385.04 L65.85,389.00 L65.59,392.95 L65.32,396.91 L65.05,400.86 L64.76,404.82 L64.47,408.77 L64.16,412.73 L63.84,416.68 L63.51,420.64 L63.16,424.59 L62.80,428.55 L62.43,432.50 L62.83,417.61 L63.34,404.90 L63.88,394.05 L64.41,384.78 L64.92,376.87 L65.39,370.10 L65.84,364.32 L66.26,359.38 L66.65,355.15 L67.02,351.53 L67.36,348.43 L67.68,345.78 L67.98,343.50 L68.27,341.54 L68.54,339.85 L68.80,338.40 L69.05,337.15 L69.29,336.07 L69.53,335.14 L69.75,334.32 L69.97,333.62 L70.19,333.00 L70.40,332.46 L70.61,331.99 L70.81,331.57 L71.01,331.20 L71.21,330.87 L71.41,330.57 L71.61,330.31 L71.80,330.07 L71.99,329.85 L72.18,329.65 L72.37,329.47 L72.56,329.30 L72.75,329.14 L72.94,328.99 L73.13,328.85 L73.32,328.72 L73.51,328.59 L73.69,328.47 L74.59,327.86 L75.47,327.41 L76.36,326.96 L76.75,327.17 L77.10,327.56 L77.40,328.12 L77.66,328.84 L77.85,329.69 L77.98,330.68 L78.03,331.77 L78.00,332.96 L77.61,337.11 L77.32,341.26 L77.03,345.40 L76.74,349.55 L76.46,353.70 L76.18,357.85 L75.90,361.99 L75.62,366.14 L75.34,370.29 L75.06,374.44 L74.78,378.58 L74.49,382.73 L74.20,386.88 L73.90,391.03 L73.59,395.17 L73.27,399.32 L72.94,403.47 L72.59,407.62 L72.23,411.76 L71.85,415.91 L71.45,420.06 L71.02,424.21 L70.58,428.35 L70.12,432.50 L70.58,416.89 L71.16,403.57 L71.77,392.22 L72.37,382.53 L72.94,374.26 L73.49,367.20 L74.00,361.17 L74.48,356.02 L74.93,351.61 L75.35,347.84 L75.74,344.61 L76.12,341.85 L76.47,339.47 L76.81,337.43 L77.14,335.67 L77.45,334.16 L77.75,332.85 L78.03,331.72 L78.32,330.73 L78.59,329.88 L78.86,329.13 L79.12,328.48 L79.38,327.90 L79.63,327.40 L79.88,326.95 L80.13,326.54 L80.38,326.19 L80.62,325.86 L80.86,325.57 L81.10,325.30 L81.34,325.06 L81.58,324.83 L81.82,324.62 L82.05,324.42 L82.29,324.24 L82.53,324.07 L82.76,323.90 L82.99,323.74 L83.23,323.60 L83.46,323.45 L84.35,322.85 L85.23,322.43 L86.11,322.03 L86.99,321.63 L87.48,321.84 L87.92,322.23 L88.30,322.79 L88.63,323.51 L88.88,324.36 L89.05,325.35 L89.13,326.44 L89.11,327.63 L88.67,332.00 L88.34,336.37 L88.01,340.74 L87.69,345.11 L87.37,349.48 L87.06,353.85 L86.74,358.22 L86.43,362.59 L86.11,366.96 L85.79,371.33 L85.47,375.70 L85.14,380.07 L84.80,384.44 L84.46,388.81 L84.09,393.17 L83.72,397.54 L83.33,401.91 L82.91,406.28 L82.48,410.65 L82.02,415.02 L81.53,419.39 L81.01,423.76 L80.46,428.13 L79.89,432.50 L80.43,416.11 L81.10,402.13 L81.79,390.21 L82.47,380.03 L83.13,371.34 L83.75,363.92 L84.34,357.58 L84.90,352.17 L85.42,347.54 L85.91,343.57 L86.38,340.18 L86.82,337.28 L87.24,334.78 L87.65,332.65 L88.03,330.81 L88.41,329.23 L88.77,327.86 L89.12,326.69 L89.46,325.67 L89.79,324.79 L90.12,324.02 L90.44,323.35 L90.76,322.77 L91.07,322.25 L91.38,321.80 L91.68,321.40 L91.98,321.04 L92.28,320.72 L92.58,320.44 L92.88,320.18 L93.17,319.95 L93.47,319.73 L93.76,319.54 L94.05,319.35 L94.35,319.18 L94.64,319.02 L94.93,318.87 L95.22,318.73 L95.50,318.60 L95.79,318.47 L96.55,318.03 L97.30,317.78 L98.05,317.53 L98.80,317.27 L99.55,317.02 L100.30,316.77 L101.05,316.52 L101.67,316.73 L102.23,317.12 L102.73,317.68 L103.15,318.39 L103.48,319.25 L103.71,320.23 L103.83,321.32 L103.82,322.52 L103.31,327.10 L102.94,331.68 L102.57,336.26 L102.21,340.85 L101.85,345.43 L101.49,350.01 L101.14,354.60 L100.78,359.18 L100.42,363.76 L100.06,368.34 L99.68,372.93 L99.30,377.51 L98.91,382.09 L98.50,386.67 L98.08,391.26 L97.63,395.84 L97.16,400.42 L96.66,405.00 L96.13,409.59 L95.57,414.17 L94.97,418.75 L94.33,423.33 L93.64,427.92 L92.92,432.50 L93.55,415.34 L94.32,400.70 L95.12,388.22 L95.91,377.57 L96.67,368.49 L97.39,360.73 L98.08,354.11 L98.73,348.45 L99.34,343.62 L99.92,339.48 L100.48,335.94 L101.01,332.90 L101.51,330.30 L102.00,328.06 L102.47,326.14 L102.92,324.48 L103.37,323.05 L103.80,321.82 L104.22,320.74 L104.63,319.81 L105.04,319.00 L105.44,318.29 L105.83,317.66 L106.22,317.11 L106.61,316.62 L106.99,316.19 L107.37,315.80 L107.75,315.45 L108.12,315.13 L108.50,314.85 L108.87,314.58 L109.24,314.34 L109.61,314.12 L109.98,313.91 L110.35,313.71 L110.72,313.53 L111.08,313.35 L111.45,313.19 L111.82,313.03 L112.18,312.88 L112.98,312.43 L113.77,312.18 L114.56,311.93 L115.35,311.69 L116.14,311.46 L116.93,311.22 L117.71,311.00 L118.50,310.77 L119.29,310.56 L120.07,310.77 L120.79,311.16 L121.43,311.72 L121.97,312.44 L122.40,313.29 L122.71,314.28 L122.87,315.37 L122.88,316.56 L122.29,321.40 L121.87,326.23 L121.46,331.06 L121.04,335.89 L120.63,340.72 L120.23,345.55 L119.82,350.38 L119.41,355.21 L118.99,360.04 L118.57,364.87 L118.13,369.70 L117.68,374.53 L117.22,379.36 L116.73,384.19 L116.23,389.02 L115.69,393.85 L115.12,398.69 L114.51,403.52 L113.86,408.35 L113.16,413.18 L112.42,418.01 L111.62,422.84 L110.76,427.67 L109.85,432.50 L110.60,414.46 L111.50,399.08 L112.43,385.95 L113.34,374.76 L114.23,365.21 L115.08,357.05 L115.89,350.09 L116.66,344.14 L117.39,339.06 L118.09,334.71 L118.76,330.99 L119.40,327.81 L120.01,325.09 L120.61,322.75 L121.18,320.74 L121.74,319.02 L122.29,317.53 L122.82,316.25 L123.34,315.15 L123.85,314.19 L124.36,313.36 L124.86,312.64 L125.35,312.01 L125.84,311.46 L126.33,310.97 L126.81,310.55 L127.29,310.17 L127.76,309.83 L128.23,309.53 L128.70,309.26 L129.17,309.02 L129.64,308.80 L130.11,308.59 L130.57,308.41 L131.04,308.24 L131.50,308.07 L131.97,307.93 L132.43,307.79 L132.89,307.65 L133.35,307.52 L134.09,307.18 L134.81,307.04 L135.54,306.90 L136.26,306.76 L136.98,306.62 L137.71,306.48 L138.43,306.34 L139.15,306.20 L139.88,306.07 L140.60,305.93 L141.32,305.80 L142.05,305.67 L142.77,305.53 L143.49,305.40 L144.50,305.61 L145.43,306.00 L146.26,306.56 L146.97,307.28 L147.54,308.13 L147.95,309.11 L148.18,310.21 L148.20,311.40 L147.52,316.45 L147.04,321.49 L146.57,326.54 L146.10,331.59 L145.63,336.63 L145.16,341.68 L144.69,346.72 L144.22,351.77 L143.73,356.81 L143.24,361.86 L142.73,366.91 L142.20,371.95 L141.65,377.00 L141.07,382.04 L140.45,387.09 L139.80,392.13 L139.10,397.18 L138.35,402.23 L137.55,407.27 L136.68,412.32 L135.74,417.36 L134.73,422.41 L133.64,427.45 L132.47,432.50 L133.37,413.66 L134.43,397.61 L135.52,383.92 L136.60,372.25 L137.65,362.30 L138.65,353.81 L139.62,346.56 L140.54,340.38 L141.42,335.10 L142.26,330.58 L143.07,326.73 L143.85,323.43 L144.61,320.60 L145.34,318.18 L146.05,316.10 L146.75,314.31 L147.43,312.78 L148.10,311.45 L148.75,310.31 L149.40,309.32 L150.04,308.46 L150.67,307.71 L151.30,307.06 L151.92,306.49 L152.54,305.99 L153.15,305.55 L153.76,305.16 L154.37,304.81 L154.97,304.50 L155.57,304.22 L156.17,303.96 L156.77,303.73 L157.37,303.52 L157.97,303.33 L158.57,303.15 L159.16,302.98 L159.76,302.82 L160.35,302.68 L160.94,302.54 L161.54,302.40 L162.26,302.08 L162.97,301.97 L163.69,301.86 L164.40,301.75 L165.11,301.63 L165.82,301.53 L166.53,301.42 L167.25,301.31 L167.96,301.20 L168.67,301.10 L169.38,301.00 L170.09,300.90 L170.80,300.80 L171.51,300.69 L172.23,300.60 L172.94,300.50 L173.65,300.41 L174.36,300.31 L175.07,300.22 L175.78,300.13 L176.49,300.04 L177.20,299.95 L177.91,299.86 L178.62,299.77 L179.96,299.98 L181.20,300.37 L182.31,300.93 L183.26,301.64 L184.02,302.50 L184.58,303.48 L184.91,304.58 L184.97,305.77 L184.15,311.05 L183.59,316.33 L183.04,321.61 L182.49,326.89 L181.94,332.17 L181.40,337.45 L180.84,342.73 L180.28,348.01 L179.70,353.29 L179.11,358.57 L178.50,363.85 L177.86,369.13 L177.18,374.41 L176.47,379.70 L175.70,384.98 L174.89,390.26 L174.01,395.54 L173.06,400.82 L172.03,406.10 L170.91,411.38 L169.70,416.66 L168.38,421.94 L166.95,427.22 L165.41,432.50 L166.52,412.81 L167.81,396.03 L169.12,381.73 L170.43,369.54 L171.69,359.15 L172.92,350.29 L174.10,342.73 L175.23,336.28 L176.32,330.77 L177.37,326.08 L178.38,322.06 L179.37,318.63 L180.32,315.70 L181.25,313.19 L182.16,311.04 L183.05,309.20 L183.93,307.62 L184.79,306.26 L185.64,305.09 L186.48,304.08 L187.31,303.21 L188.14,302.46 L188.96,301.81 L189.77,301.24 L190.58,300.74 L191.38,300.31 L192.18,299.93 L192.98,299.59 L193.77,299.29 L194.56,299.03 L195.35,298.79 L196.14,298.57 L196.93,298.38 L197.72,298.20 L198.50,298.04 L199.29,297.89 L200.07,297.75 L200.85,297.62 L201.64,297.50 L202.42,297.38 L203.14,297.10 L203.86,297.03 L204.57,296.96 L205.28,296.89 L205.99,296.81 L206.70,296.75 L207.42,296.68 L208.13,296.61 L208.84,296.54 L209.55,296.47 L210.26,296.40 L210.97,296.33 L211.69,296.26 L212.40,296.19 L213.11,296.12 L213.82,296.06 L214.53,295.99 L215.24,295.92 L215.96,295.85 L216.67,295.79 L217.38,295.72 L218.09,295.65 L218.80,295.59 L219.51,295.52 L220.22,295.46 L220.94,295.39 L221.65,295.33 L222.36,295.26 L223.07,295.20 L223.78,295.13 L224.49,295.07 L225.20,295.01 L225.92,294.95 L226.63,294.88 L227.34,294.82 L228.05,294.76 L228.76,294.70 L229.47,294.64 L230.18,294.58 L230.89,294.52 L231.61,294.46 L232.32,294.40 L234.03,294.61 L235.62,295.00 L237.04,295.56 L238.26,296.28 L239.26,297.13 L239.99,298.11 L240.42,299.21 L240.52,300.40 L239.51,305.90 L238.85,311.41 L238.19,316.91 L237.54,322.42 L236.88,327.92 L236.22,333.43 L235.55,338.93 L234.86,344.43 L234.16,349.94 L233.43,355.44 L232.67,360.95 L231.86,366.45 L231.01,371.95 L230.10,377.46 L229.12,382.96 L228.06,388.47 L226.91,393.97 L225.66,399.48 L224.29,404.98 L222.81,410.48 L221.18,415.99 L219.41,421.49 L217.47,427.00 L215.37,432.50 L216.79,412.01 L218.39,394.55 L220.03,379.67 L221.65,366.99 L223.24,356.18 L224.78,346.97 L226.27,339.11 L227.71,332.41 L229.11,326.70 L230.46,321.82 L231.78,317.66 L233.06,314.10 L234.32,311.07 L235.54,308.48 L236.75,306.27 L237.94,304.37 L239.10,302.76 L240.26,301.38 L241.40,300.20 L242.53,299.19 L243.65,298.33 L244.76,297.59 L245.87,296.96 L246.97,296.43 L248.06,295.97 L249.15,295.57 L250.23,295.24 L251.32,294.95 L252.40,294.71 L253.47,294.50 L254.55,294.32 L255.62,294.16 L256.70,294.02 L257.77,293.89 L258.84,293.79 L259.91,293.71 L260.97,293.65 L262.04,293.60 L263.11,293.55 L264.17,293.52 L262.49,293.30 L260.79,293.30" fill="none" stroke="#9a9a9a" stroke-width="0.9" stroke-linejoin="round"/>
<path d="M36.40,432.50 L36.69,396.57 L36.98,390.32 L37.05,390.36 L37.11,390.43 L37.17,390.52 L37.22,390.64 L37.26,390.78 L37.29,390.95 L37.31,391.13 L37.32,391.33 L37.31,393.04 L37.31,394.76 L37.30,396.48 L37.30,398.19 L37.30,399.91 L37.29,401.62 L37.29,403.34 L37.28,405.05 L37.28,406.77 L37.28,408.48 L37.27,410.20 L37.26,411.91 L37.26,413.63 L37.25,415.35 L37.24,417.06 L37.23,418.78 L37.22,420.49 L37.21,422.21 L37.20,423.92 L37.18,425.64 L37.17,427.35 L37.15,429.07 L37.13,430.78 L37.10,432.50 L37.12,425.90 L37.14,420.23 L37.15,415.34 L37.17,411.13 L37.19,407.51 L37.20,404.38 L37.22,401.67 L37.23,399.33 L37.25,397.30 L37.27,395.53 L37.28,393.99 L37.30,392.64 L37.32,391.46 L37.33,390.42 L37.35,389.50 L37.37,388.69 L37.38,387.96 L37.40,387.31 L37.42,386.72 L37.43,386.20 L37.45,385.72 L37.47,385.28 L37.48,384.87 L37.50,384.51 L37.52,384.18 L37.53,383.86 L37.55,383.57 L37.56,383.29 L37.58,383.04 L37.60,382.80 L37.61,382.57 L37.63,382.35 L37.65,382.14 L37.66,381.94 L37.68,381.76 L37.70,381.57 L37.71,381.39 L37.73,381.22 L37.75,381.06 L37.76,380.90 L37.22,387.97 L37.28,388.03 L37.34,388.13 L37.39,388.26 L37.43,388.41 L37.46,388.58 L37.48,388.77 L37.49,388.98 L37.48,390.79 L37.48,392.60 L37.48,394.42 L37.47,396.23 L37.47,398.04 L37.46,399.86 L37.46,401.67 L37.45,403.48 L37.45,405.30 L37.44,407.11 L37.43,408.93 L37.43,410.74 L37.42,412.55 L37.41,414.37 L37.40,416.18 L37.39,417.99 L37.38,419.81 L37.36,421.62 L37.35,423.43 L37.33,425.25 L37.31,427.06 L37.29,428.87 L37.26,430.69 L37.23,432.50 L37.25,425.65 L37.26,419.76 L37.28,414.70 L37.30,410.35 L37.31,406.60 L37.33,403.36 L37.35,400.56 L37.36,398.14 L37.38,396.04 L37.40,394.22 L37.41,392.63 L37.43,391.25 L37.45,390.04 L37.46,388.97 L37.48,388.03 L37.50,387.22 L37.51,386.49 L37.53,385.84 L37.55,385.26 L37.56,384.74 L37.58,384.28 L37.59,383.86 L37.61,383.48 L37.63,383.13 L37.64,382.81 L37.66,382.52 L37.68,382.25 L37.69,382.00 L37.71,381.76 L37.73,381.53 L37.74,381.33 L37.76,381.13 L37.78,380.94 L37.79,380.76 L37.81,380.59 L37.83,380.42 L37.84,380.27 L37.86,380.11 L37.88,379.96 L37.89,379.81 L37.42,385.38 L37.49,385.45 L37.55,385.55 L37.60,385.68 L37.64,385.84 L37.68,386.02 L37.70,386.22 L37.70,386.44 L37.70,388.36 L37.69,390.28 L37.69,392.20 L37.68,394.12 L37.67,396.03 L37.67,397.95 L37.66,399.87 L37.66,401.79 L37.65,403.71 L37.64,405.63 L37.64,407.55 L37.63,409.47 L37.62,411.39 L37.61,413.31 L37.59,415.23 L37.58,417.15 L37.56,419.07 L37.55,420.98 L37.53,422.90 L37.51,424.82 L37.48,426.74 L37.45,428.66 L37.42,430.58 L37.39,432.50 L37.41,425.35 L37.42,419.21 L37.44,413.93 L37.46,409.39 L37.48,405.48 L37.49,402.11 L37.51,399.21 L37.53,396.70 L37.54,394.53 L37.56,392.65 L37.58,391.02 L37.60,389.61 L37.61,388.38 L37.63,387.30 L37.65,386.36 L37.67,385.53 L37.68,384.81 L37.70,384.16 L37.72,383.59 L37.74,383.08 L37.75,382.63 L37.77,382.22 L37.79,381.85 L37.80,381.52 L37.82,381.22 L37.84,380.94 L37.86,380.68 L37.87,380.44 L37.89,380.22 L37.91,380.01 L37.93,379.82 L37.94,379.64 L37.96,379.46 L37.98,379.29 L38.00,379.13 L38.01,378.98 L38.03,378.83 L38.05,378.69 L38.06,378.54 L38.08,378.41 L37.67,382.46 L37.74,382.54 L37.80,382.65 L37.85,382.78 L37.90,382.95 L37.93,383.14 L37.95,383.35 L37.96,383.59 L37.95,385.62 L37.95,387.66 L37.94,389.70 L37.93,391.74 L37.93,393.78 L37.92,395.81 L37.91,397.85 L37.91,399.89 L37.90,401.93 L37.89,403.97 L37.88,406.00 L37.87,408.04 L37.86,410.08 L37.84,412.12 L37.83,414.16 L37.81,416.20 L37.79,418.23 L37.77,420.27 L37.75,422.31 L37.72,424.35 L37.69,426.39 L37.66,428.42 L37.62,430.46 L37.58,432.50 L37.60,425.02 L37.62,418.59 L37.64,413.07 L37.66,408.32 L37.68,404.24 L37.71,400.72 L37.73,397.69 L37.75,395.09 L37.77,392.83 L37.79,390.88 L37.81,389.19 L37.83,387.73 L37.85,386.46 L37.87,385.34 L37.90,384.37 L37.92,383.53 L37.94,382.78 L37.96,382.12 L37.98,381.53 L38.00,381.02 L38.02,380.56 L38.04,380.14 L38.06,379.76 L38.08,379.42 L38.11,379.12 L38.13,378.83 L38.15,378.57 L38.17,378.32 L38.19,378.10 L38.21,377.88 L38.23,377.68 L38.25,377.49 L38.27,377.30 L38.30,377.13 L38.32,376.96 L38.34,376.80 L38.36,376.64 L38.38,376.48 L38.40,376.33 L38.42,376.18 L37.97,379.74 L38.04,379.82 L38.11,379.94 L38.16,380.09 L38.21,380.26 L38.25,380.47 L38.27,380.69 L38.28,380.94 L38.26,383.09 L38.26,385.24 L38.25,387.39 L38.24,389.53 L38.23,391.68 L38.22,393.83 L38.22,395.98 L38.21,398.13 L38.20,400.28 L38.19,402.42 L38.17,404.57 L38.16,406.72 L38.15,408.87 L38.13,411.02 L38.11,413.17 L38.09,415.31 L38.07,417.46 L38.04,419.61 L38.02,421.76 L37.98,423.91 L37.95,426.06 L37.91,428.20 L37.86,430.35 L37.81,432.50 L37.84,424.69 L37.86,417.99 L37.89,412.23 L37.91,407.29 L37.94,403.04 L37.96,399.38 L37.99,396.24 L38.02,393.53 L38.04,391.19 L38.07,389.16 L38.09,387.41 L38.12,385.90 L38.14,384.58 L38.17,383.42 L38.19,382.42 L38.22,381.54 L38.25,380.76 L38.27,380.07 L38.30,379.47 L38.32,378.92 L38.35,378.44 L38.37,378.00 L38.40,377.60 L38.42,377.24 L38.45,376.91 L38.48,376.60 L38.50,376.32 L38.53,376.05 L38.55,375.80 L38.58,375.56 L38.60,375.34 L38.63,375.12 L38.65,374.92 L38.68,374.72 L38.71,374.52 L38.73,374.34 L38.76,374.16 L38.78,373.98 L38.81,373.81 L38.83,373.64 L38.34,377.18 L38.41,377.26 L38.48,377.39 L38.54,377.55 L38.59,377.74 L38.63,377.96 L38.65,378.20 L38.66,378.47 L38.64,380.72 L38.63,382.97 L38.62,385.22 L38.61,387.47 L38.60,389.73 L38.59,391.98 L38.58,394.23 L38.57,396.48 L38.56,398.73 L38.55,400.98 L38.53,403.23 L38.52,405.48 L38.50,407.74 L38.48,409.99 L38.46,412.24 L38.43,414.49 L38.41,416.74 L38.38,418.99 L38.34,421.24 L38.30,423.49 L38.26,425.75 L38.21,428.00 L38.15,430.25 L38.09,432.50 L38.12,424.37 L38.15,417.39 L38.19,411.41 L38.22,406.26 L38.25,401.84 L38.28,398.04 L38.31,394.76 L38.34,391.94 L38.37,389.50 L38.40,387.39 L38.43,385.55 L38.46,383.96 L38.50,382.58 L38.53,381.36 L38.56,380.30 L38.59,379.37 L38.62,378.54 L38.65,377.81 L38.68,377.15 L38.71,376.57 L38.74,376.04 L38.78,375.57 L38.81,375.14 L38.84,374.74 L38.87,374.37 L38.90,374.04 L38.93,373.73 L38.96,373.44 L38.99,373.16 L39.02,372.90 L39.05,372.66 L39.09,372.43 L39.12,372.20 L39.15,371.99 L39.18,371.78 L39.21,371.58 L39.24,371.39 L39.27,371.20 L39.30,371.02 L39.33,370.84 L38.79,374.40 L38.86,374.49 L38.93,374.63 L39.00,374.80 L39.05,375.01 L39.09,375.25 L39.11,375.51 L39.12,375.80 L39.10,378.16 L39.09,380.53 L39.08,382.89 L39.07,385.25 L39.06,387.61 L39.04,389.98 L39.03,392.34 L39.02,394.70 L39.00,397.06 L38.99,399.43 L38.97,401.79 L38.95,404.15 L38.93,406.51 L38.91,408.88 L38.88,411.24 L38.85,413.60 L38.82,415.96 L38.78,418.33 L38.74,420.69 L38.69,423.05 L38.63,425.41 L38.57,427.78 L38.51,430.14 L38.43,432.50 L38.47,424.03 L38.51,416.76 L38.55,410.52 L38.58,405.15 L38.62,400.53 L38.66,396.55 L38.70,393.11 L38.74,390.15 L38.77,387.58 L38.81,385.36 L38.85,383.43 L38.89,381.74 L38.92,380.28 L38.96,379.00 L39.00,377.87 L39.04,376.88 L39.07,376.01 L39.11,375.23 L39.15,374.54 L39.19,373.92 L39.23,373.37 L39.26,372.86 L39.30,372.41 L39.34,372.00 L39.38,371.62 L39.41,371.26 L39.45,370.94 L39.49,370.64 L39.53,370.36 L39.56,370.09 L39.60,369.84 L39.64,369.60 L39.68,369.38 L39.72,369.16 L39.75,368.95 L39.79,368.75 L39.83,368.56 L39.87,368.37 L39.90,368.19 L39.94,368.01 L39.33,371.30 L39.41,371.41 L39.49,371.56 L39.55,371.75 L39.61,371.97 L39.65,372.24 L39.67,372.53 L39.68,372.84 L39.66,375.33 L39.65,377.82 L39.63,380.30 L39.62,382.79 L39.61,385.27 L39.59,387.76 L39.58,390.24 L39.56,392.73 L39.54,395.22 L39.53,397.70 L39.51,400.19 L39.48,402.67 L39.46,405.16 L39.43,407.64 L39.40,410.13 L39.36,412.61 L39.33,415.10 L39.28,417.59 L39.23,420.07 L39.18,422.56 L39.11,425.04 L39.04,427.53 L38.97,430.01 L38.88,432.50 L38.92,423.62 L38.97,415.99 L39.01,409.44 L39.06,403.81 L39.10,398.96 L39.14,394.78 L39.19,391.18 L39.23,388.07 L39.28,385.38 L39.32,383.06 L39.36,381.04 L39.41,379.29 L39.45,377.76 L39.50,376.43 L39.54,375.27 L39.59,374.24 L39.63,373.34 L39.67,372.54 L39.72,371.84 L39.76,371.20 L39.81,370.64 L39.85,370.14 L39.89,369.68 L39.94,369.26 L39.98,368.89 L40.03,368.54 L40.07,368.22 L40.11,367.92 L40.16,367.64 L40.20,367.39 L40.25,367.14 L40.29,366.91 L40.34,366.69 L40.38,366.48 L40.42,366.28 L40.47,366.09 L40.51,365.90 L40.56,365.72 L40.60,365.55 L40.64,365.38 L39.99,368.19 L40.07,368.31 L40.15,368.47 L40.22,368.68 L40.28,368.94 L40.33,369.23 L40.35,369.55 L40.36,369.90 L40.34,372.51 L40.33,375.12 L40.31,377.72 L40.30,380.33 L40.28,382.94 L40.27,385.55 L40.25,388.16 L40.23,390.77 L40.22,393.37 L40.20,395.98 L40.17,398.59 L40.15,401.20 L40.12,403.81 L40.09,406.42 L40.06,409.02 L40.02,411.63 L39.98,414.24 L39.93,416.85 L39.88,419.46 L39.82,422.07 L39.75,424.67 L39.67,427.28 L39.59,429.89 L39.50,432.50 L39.54,423.12 L39.59,415.08 L39.64,408.19 L39.69,402.27 L39.74,397.18 L39.78,392.82 L39.83,389.06 L39.88,385.82 L39.93,383.03 L39.97,380.63 L40.02,378.55 L40.07,376.75 L40.12,375.18 L40.16,373.83 L40.21,372.64 L40.26,371.61 L40.31,370.70 L40.36,369.90 L40.40,369.20 L40.45,368.58 L40.50,368.02 L40.55,367.52 L40.59,367.07 L40.64,366.67 L40.69,366.30 L40.74,365.96 L40.78,365.65 L40.83,365.37 L40.88,365.10 L40.93,364.85 L40.98,364.61 L41.02,364.39 L41.07,364.18 L41.12,363.98 L41.17,363.79 L41.21,363.60 L41.26,363.43 L41.31,363.25 L41.36,363.08 L41.40,362.92 L40.78,365.21 L40.88,365.34 L40.97,365.52 L41.04,365.76 L41.10,366.04 L41.15,366.36 L41.18,366.72 L41.19,367.11 L41.17,369.84 L41.15,372.56 L41.14,375.29 L41.12,378.01 L41.10,380.74 L41.09,383.46 L41.07,386.19 L41.05,388.91 L41.03,391.63 L41.01,394.36 L40.98,397.08 L40.96,399.81 L40.93,402.53 L40.90,405.26 L40.86,407.98 L40.82,410.70 L40.77,413.43 L40.72,416.15 L40.66,418.88 L40.60,421.60 L40.52,424.33 L40.44,427.05 L40.35,429.78 L40.25,432.50 L40.30,422.65 L40.35,414.21 L40.40,406.99 L40.45,400.80 L40.51,395.49 L40.56,390.94 L40.61,387.03 L40.66,383.66 L40.71,380.77 L40.77,378.28 L40.82,376.13 L40.87,374.27 L40.92,372.66 L40.98,371.26 L41.03,370.05 L41.08,368.99 L41.13,368.06 L41.18,367.25 L41.24,366.53 L41.29,365.90 L41.34,365.34 L41.39,364.84 L41.44,364.38 L41.50,363.98 L41.55,363.61 L41.60,363.27 L41.65,362.97 L41.70,362.68 L41.76,362.42 L41.81,362.17 L41.86,361.94 L41.91,361.72 L41.96,361.51 L42.02,361.32 L42.07,361.13 L42.12,360.95 L42.17,360.77 L42.22,360.60 L42.28,360.44 L42.33,360.28 L41.75,362.17 L41.86,362.32 L41.95,362.53 L42.04,362.79 L42.10,363.11 L42.16,363.47 L42.19,363.88 L42.20,364.32 L42.17,367.16 L42.15,370.00 L42.14,372.84 L42.12,375.68 L42.10,378.52 L42.08,381.37 L42.06,384.21 L42.04,387.05 L42.02,389.89 L42.00,392.73 L41.97,395.57 L41.94,398.41 L41.91,401.25 L41.87,404.09 L41.83,406.93 L41.79,409.77 L41.73,412.61 L41.68,415.46 L41.61,418.30 L41.54,421.14 L41.46,423.98 L41.37,426.82 L41.27,429.66 L41.16,432.50 L41.22,422.18 L41.27,413.36 L41.33,405.80 L41.39,399.33 L41.44,393.79 L41.50,389.04 L41.56,384.97 L41.62,381.46 L41.67,378.45 L41.73,375.86 L41.79,373.63 L41.85,371.71 L41.90,370.04 L41.96,368.60 L42.02,367.34 L42.07,366.25 L42.13,365.30 L42.19,364.46 L42.25,363.73 L42.30,363.08 L42.36,362.50 L42.42,361.99 L42.48,361.53 L42.53,361.12 L42.59,360.75 L42.65,360.41 L42.70,360.10 L42.76,359.81 L42.82,359.54 L42.88,359.30 L42.93,359.06 L42.99,358.85 L43.05,358.64 L43.11,358.44 L43.16,358.25 L43.22,358.07 L43.28,357.89 L43.33,357.72 L43.39,357.56 L43.45,357.40 L42.93,358.97 L43.05,359.14 L43.15,359.38 L43.24,359.68 L43.32,360.04 L43.37,360.45 L43.41,360.91 L43.42,361.42 L43.39,364.38 L43.37,367.34 L43.35,370.30 L43.33,373.26 L43.31,376.23 L43.29,379.19 L43.27,382.15 L43.25,385.11 L43.22,388.07 L43.19,391.04 L43.16,394.00 L43.13,396.96 L43.10,399.92 L43.06,402.88 L43.01,405.84 L42.96,408.81 L42.90,411.77 L42.84,414.73 L42.77,417.69 L42.69,420.65 L42.60,423.61 L42.50,426.58 L42.39,429.54 L42.26,432.50 L42.33,421.70 L42.39,412.47 L42.46,404.56 L42.52,397.80 L42.58,392.01 L42.65,387.05 L42.71,382.80 L42.77,379.15 L42.84,376.01 L42.90,373.31 L42.96,370.99 L43.03,368.98 L43.09,367.25 L43.16,365.75 L43.22,364.45 L43.28,363.32 L43.35,362.33 L43.41,361.47 L43.47,360.71 L43.54,360.04 L43.60,359.44 L43.66,358.91 L43.73,358.44 L43.79,358.01 L43.86,357.63 L43.92,357.28 L43.98,356.96 L44.05,356.66 L44.11,356.39 L44.17,356.13 L44.24,355.89 L44.30,355.67 L44.37,355.45 L44.43,355.25 L44.49,355.05 L44.56,354.86 L44.62,354.68 L44.68,354.51 L44.75,354.33 L44.81,354.16 L44.36,355.50 L44.49,355.69 L44.61,355.96 L44.71,356.31 L44.79,356.72 L44.85,357.20 L44.89,357.73 L44.91,358.30 L44.87,361.40 L44.85,364.49 L44.82,367.58 L44.80,370.67 L44.78,373.76 L44.76,376.85 L44.73,379.94 L44.71,383.04 L44.68,386.13 L44.65,389.22 L44.62,392.31 L44.58,395.40 L44.54,398.49 L44.50,401.59 L44.44,404.68 L44.39,407.77 L44.32,410.86 L44.25,413.95 L44.17,417.04 L44.08,420.13 L43.98,423.23 L43.87,426.32 L43.75,429.41 L43.61,432.50 L43.68,421.19 L43.75,411.51 L43.82,403.24 L43.89,396.16 L43.97,390.10 L44.04,384.91 L44.11,380.45 L44.18,376.63 L44.25,373.35 L44.32,370.53 L44.39,368.10 L44.47,366.00 L44.54,364.19 L44.61,362.62 L44.68,361.26 L44.75,360.07 L44.82,359.04 L44.89,358.14 L44.96,357.34 L45.04,356.64 L45.11,356.02 L45.18,355.47 L45.25,354.98 L45.32,354.53 L45.39,354.13 L45.46,353.77 L45.54,353.43 L45.61,353.13 L45.68,352.85 L45.75,352.58 L45.82,352.34 L45.89,352.10 L45.96,351.88 L46.04,351.68 L46.11,351.48 L46.18,351.29 L46.25,351.10 L46.32,350.92 L46.39,350.75 L46.46,350.59 L46.10,351.64 L46.25,351.86 L46.37,352.17 L46.49,352.57 L46.58,353.05 L46.65,353.60 L46.69,354.21 L46.71,354.88 L46.66,358.11 L46.64,361.34 L46.61,364.58 L46.59,367.81 L46.57,371.05 L46.54,374.28 L46.51,377.52 L46.48,380.75 L46.45,383.98 L46.42,387.22 L46.38,390.45 L46.34,393.69 L46.29,396.92 L46.24,400.16 L46.18,403.39 L46.12,406.63 L46.05,409.86 L45.97,413.09 L45.88,416.33 L45.78,419.56 L45.66,422.80 L45.54,426.03 L45.40,429.27 L45.24,432.50 L45.32,420.61 L45.40,410.45 L45.48,401.76 L45.56,394.33 L45.64,387.97 L45.73,382.52 L45.81,377.84 L45.89,373.83 L45.97,370.39 L46.05,367.43 L46.13,364.89 L46.21,362.69 L46.29,360.80 L46.37,359.15 L46.45,357.74 L46.53,356.50 L46.61,355.43 L46.70,354.49 L46.78,353.66 L46.86,352.94 L46.94,352.31 L47.02,351.74 L47.10,351.24 L47.18,350.79 L47.26,350.38 L47.34,350.02 L47.42,349.69 L47.50,349.38 L47.58,349.11 L47.67,348.86 L47.75,348.62 L47.83,348.40 L47.91,348.20 L47.99,348.01 L48.07,347.83 L48.15,347.66 L48.23,347.50 L48.31,347.34 L48.39,347.20 L48.47,347.06 L49.74,345.40 L51.00,344.18" fill="none" stroke="#000" stroke-width="0.6" stroke-linejoin="round"/>
<path d="M36.40,432.50 L36.91,391.55 L37.41,384.55 L37.92,379.52 L38.42,376.07 L38.93,372.97 L39.44,370.22 L39.94,367.91 L40.45,365.96 L40.96,364.22 L41.46,362.64 L41.97,361.16 L42.47,359.77 L42.98,358.45 L43.49,357.19 L43.99,355.96 L44.50,354.77 L45.00,353.60 L45.51,352.47 L46.02,351.38 L46.52,350.34 L47.03,349.35 L47.54,348.42 L48.04,347.58 L48.21,347.71 L48.38,347.97 L48.52,348.33 L48.65,348.80 L48.75,349.35 L48.83,349.99 L48.88,350.70 L48.90,351.48 L48.84,354.85 L48.82,358.23 L48.79,361.61 L48.76,364.98 L48.73,368.36 L48.70,371.73 L48.67,375.11 L48.64,378.49 L48.60,381.86 L48.56,385.24 L48.52,388.61 L48.47,391.99 L48.42,395.36 L48.36,398.74 L48.30,402.12 L48.22,405.49 L48.14,408.87 L48.05,412.24 L47.95,415.62 L47.83,419.00 L47.70,422.37 L47.56,425.75 L47.40,429.12 L47.22,432.50 L47.31,420.01 L47.41,409.33 L47.50,400.21 L47.59,392.41 L47.68,385.74 L47.78,380.03 L47.87,375.15 L47.96,370.96 L48.05,367.38 L48.14,364.31 L48.24,361.66 L48.33,359.40 L48.42,357.45 L48.51,355.77 L48.61,354.33 L48.70,353.08 L48.79,352.00 L48.88,351.07 L48.98,350.26 L49.07,349.55 L49.16,348.94 L49.25,348.40 L49.34,347.93 L49.44,347.51 L49.53,347.15 L49.62,346.82 L49.71,346.53 L49.81,346.27 L49.90,346.04 L49.99,345.82 L50.08,345.63 L50.18,345.46 L50.27,345.29 L50.36,345.14 L50.45,345.00 L50.54,344.87 L50.64,344.74 L50.73,344.62 L50.82,344.51 L50.91,344.40 L51.53,343.67 L52.15,343.05 L52.36,343.23 L52.56,343.55 L52.74,344.01 L52.89,344.61 L53.02,345.32 L53.12,346.13 L53.18,347.04 L53.20,348.03 L53.12,351.55 L53.09,355.07 L53.05,358.59 L53.02,362.11 L52.98,365.63 L52.95,369.15 L52.91,372.67 L52.87,376.19 L52.82,379.70 L52.77,383.22 L52.72,386.74 L52.66,390.26 L52.60,393.78 L52.52,397.30 L52.44,400.82 L52.35,404.34 L52.25,407.86 L52.14,411.38 L52.01,414.90 L51.87,418.42 L51.71,421.94 L51.53,425.46 L51.33,428.98 L51.11,432.50 L51.23,419.28 L51.34,408.01 L51.46,398.39 L51.57,390.17 L51.69,383.16 L51.80,377.17 L51.92,372.05 L52.03,367.67 L52.15,363.93 L52.26,360.71 L52.38,357.96 L52.49,355.60 L52.61,353.56 L52.72,351.82 L52.83,350.31 L52.95,349.01 L53.06,347.89 L53.18,346.91 L53.29,346.06 L53.41,345.32 L53.52,344.67 L53.64,344.11 L53.75,343.60 L53.87,343.16 L53.98,342.76 L54.10,342.41 L54.21,342.09 L54.33,341.80 L54.44,341.54 L54.56,341.30 L54.67,341.08 L54.79,340.87 L54.90,340.68 L55.02,340.50 L55.13,340.33 L55.24,340.17 L55.36,340.01 L55.47,339.87 L55.59,339.72 L55.70,339.58 L56.43,338.73 L57.15,338.03 L57.88,337.33 L58.14,337.54 L58.39,337.93 L58.62,338.49 L58.81,339.20 L58.97,340.06 L59.10,341.04 L59.17,342.13 L59.20,343.33 L59.09,347.04 L59.05,350.76 L59.01,354.47 L58.96,358.19 L58.92,361.90 L58.87,365.62 L58.82,369.34 L58.77,373.05 L58.71,376.77 L58.65,380.48 L58.58,384.20 L58.51,387.91 L58.42,391.63 L58.33,395.34 L58.23,399.06 L58.11,402.78 L57.98,406.49 L57.84,410.21 L57.68,413.92 L57.50,417.64 L57.29,421.35 L57.07,425.07 L56.82,428.78 L56.54,432.50 L56.69,418.46 L56.84,406.48 L56.98,396.25 L57.13,387.52 L57.27,380.05 L57.42,373.67 L57.57,368.22 L57.71,363.55 L57.86,359.55 L58.00,356.12 L58.15,353.18 L58.30,350.65 L58.44,348.47 L58.59,346.59 L58.74,344.97 L58.88,343.57 L59.03,342.35 L59.17,341.29 L59.32,340.37 L59.47,339.56 L59.61,338.85 L59.76,338.22 L59.90,337.66 L60.05,337.17 L60.20,336.73 L60.34,336.33 L60.49,335.97 L60.63,335.64 L60.78,335.34 L60.93,335.07 L61.07,334.81 L61.22,334.57 L61.37,334.35 L61.51,334.15 L61.66,333.95 L61.80,333.76 L61.95,333.59 L62.10,333.42 L62.24,333.26 L62.39,333.10 L63.24,332.24 L64.09,331.59 L64.41,331.79 L64.71,332.19 L64.99,332.75 L65.23,333.46 L65.42,334.32 L65.57,335.30 L65.67,336.39 L65.70,337.59 L65.57,341.54 L65.52,345.49 L65.47,349.45 L65.41,353.40 L65.36,357.36 L65.30,361.31 L65.24,365.27 L65.17,369.22 L65.10,373.18 L65.03,377.13 L64.94,381.09 L64.85,385.04 L64.75,389.00 L64.63,392.95 L64.51,396.91 L64.36,400.86 L64.20,404.82 L64.03,408.77 L63.83,412.73 L63.60,416.68 L63.35,420.64 L63.08,424.59 L62.77,428.55 L62.43,432.50 L62.61,417.61 L62.79,404.90 L62.97,394.05 L63.15,384.78 L63.33,376.87 L63.51,370.10 L63.69,364.32 L63.87,359.38 L64.05,355.15 L64.23,351.53 L64.41,348.43 L64.59,345.78 L64.77,343.50 L64.95,341.54 L65.13,339.85 L65.31,338.40 L65.49,337.15 L65.67,336.07 L65.85,335.14 L66.03,334.32 L66.21,333.62 L66.39,333.00 L66.57,332.46 L66.75,331.99 L66.93,331.57 L67.11,331.20 L67.29,330.87 L67.47,330.57 L67.65,330.31 L67.83,330.07 L68.01,329.85 L68.19,329.65 L68.37,329.47 L68.55,329.30 L68.73,329.14 L68.91,328.99 L69.09,328.85 L69.27,328.72 L69.45,328.59 L69.63,328.47 L70.49,327.86 L71.35,327.41 L72.20,326.96 L72.60,327.17 L72.98,327.56 L73.32,328.12 L73.61,328.84 L73.86,329.69 L74.04,330.68 L74.16,331.77 L74.20,332.96 L74.04,337.11 L73.98,341.26 L73.91,345.40 L73.85,349.55 L73.78,353.70 L73.70,357.85 L73.63,361.99 L73.55,366.14 L73.46,370.29 L73.37,374.44 L73.26,378.58 L73.15,382.73 L73.02,386.88 L72.88,391.03 L72.72,395.17 L72.54,399.32 L72.34,403.47 L72.12,407.62 L71.87,411.76 L71.59,415.91 L71.28,420.06 L70.93,424.21 L70.55,428.35 L70.12,432.50 L70.34,416.89 L70.57,403.57 L70.79,392.22 L71.02,382.53 L71.24,374.26 L71.47,367.20 L71.69,361.17 L71.91,356.02 L72.14,351.61 L72.36,347.84 L72.59,344.61 L72.81,341.85 L73.04,339.47 L73.26,337.43 L73.49,335.67 L73.71,334.16 L73.93,332.85 L74.16,331.72 L74.38,330.73 L74.61,329.88 L74.83,329.13 L75.06,328.48 L75.28,327.90 L75.51,327.40 L75.73,326.95 L75.96,326.54 L76.18,326.19 L76.40,325.86 L76.63,325.57 L76.85,325.30 L77.08,325.06 L77.30,324.83 L77.53,324.62 L77.75,324.42 L77.98,324.24 L78.20,324.07 L78.42,323.90 L78.65,323.74 L78.87,323.60 L79.10,323.45 L79.95,322.85 L80.81,322.43 L81.66,322.03 L82.52,321.63 L83.02,321.84 L83.48,322.23 L83.90,322.79 L84.27,323.51 L84.57,324.36 L84.80,325.35 L84.95,326.44 L85.00,327.63 L84.81,332.00 L84.73,336.37 L84.65,340.74 L84.56,345.11 L84.47,349.48 L84.38,353.85 L84.29,358.22 L84.19,362.59 L84.08,366.96 L83.96,371.33 L83.83,375.70 L83.69,380.07 L83.53,384.44 L83.35,388.81 L83.15,393.17 L82.93,397.54 L82.68,401.91 L82.40,406.28 L82.09,410.65 L81.74,415.02 L81.35,419.39 L80.91,423.76 L80.43,428.13 L79.89,432.50 L80.17,416.11 L80.45,402.13 L80.74,390.21 L81.02,380.03 L81.30,371.34 L81.58,363.92 L81.86,357.58 L82.14,352.17 L82.42,347.54 L82.70,343.57 L82.98,340.18 L83.26,337.28 L83.54,334.78 L83.83,332.65 L84.11,330.81 L84.39,329.23 L84.67,327.86 L84.95,326.69 L85.23,325.67 L85.51,324.79 L85.79,324.02 L86.07,323.35 L86.35,322.77 L86.63,322.25 L86.92,321.80 L87.20,321.40 L87.48,321.04 L87.76,320.72 L88.04,320.44 L88.32,320.18 L88.60,319.95 L88.88,319.73 L89.16,319.54 L89.44,319.35 L89.72,319.18 L90.01,319.02 L90.29,318.87 L90.57,318.73 L90.85,318.60 L91.13,318.47 L91.86,318.03 L92.60,317.78 L93.33,317.53 L94.07,317.27 L94.80,317.02 L95.54,316.77 L96.27,316.52 L96.90,316.73 L97.49,317.12 L98.02,317.68 L98.48,318.39 L98.86,319.25 L99.15,320.23 L99.34,321.32 L99.40,322.52 L99.16,327.10 L99.06,331.68 L98.96,336.26 L98.85,340.85 L98.74,345.43 L98.62,350.01 L98.50,354.60 L98.38,359.18 L98.24,363.76 L98.09,368.34 L97.92,372.93 L97.74,377.51 L97.54,382.09 L97.31,386.67 L97.06,391.26 L96.78,395.84 L96.46,400.42 L96.11,405.00 L95.71,409.59 L95.27,414.17 L94.77,418.75 L94.22,423.33 L93.61,427.92 L92.92,432.50 L93.28,415.34 L93.64,400.70 L93.99,388.22 L94.35,377.57 L94.71,368.49 L95.06,360.73 L95.42,354.11 L95.77,348.45 L96.13,343.62 L96.49,339.48 L96.84,335.94 L97.20,332.90 L97.55,330.30 L97.91,328.06 L98.27,326.14 L98.62,324.48 L98.98,323.05 L99.34,321.82 L99.69,320.74 L100.05,319.81 L100.40,319.00 L100.76,318.29 L101.12,317.66 L101.47,317.11 L101.83,316.62 L102.18,316.19 L102.54,315.80 L102.90,315.45 L103.25,315.13 L103.61,314.85 L103.97,314.58 L104.32,314.34 L104.68,314.12 L105.03,313.91 L105.39,313.71 L105.75,313.53 L106.10,313.35 L106.46,313.19 L106.81,313.03 L107.17,312.88 L107.94,312.43 L108.72,312.18 L109.49,311.93 L110.26,311.69 L111.04,311.46 L111.81,311.22 L112.58,311.00 L113.35,310.77 L114.13,310.56 L114.93,310.77 L115.67,311.16 L116.34,311.72 L116.93,312.44 L117.42,313.29 L117.79,314.28 L118.02,315.37 L118.10,316.56 L117.81,321.40 L117.67,326.23 L117.54,331.06 L117.41,335.89 L117.27,340.72 L117.12,345.55 L116.97,350.38 L116.80,355.21 L116.63,360.04 L116.44,364.87 L116.23,369.70 L115.99,374.53 L115.74,379.36 L115.45,384.19 L115.13,389.02 L114.77,393.85 L114.36,398.69 L113.91,403.52 L113.41,408.35 L112.84,413.18 L112.21,418.01 L111.50,422.84 L110.72,427.67 L109.85,432.50 L110.30,414.46 L110.76,399.08 L111.21,385.95 L111.66,374.76 L112.12,365.21 L112.57,357.05 L113.03,350.09 L113.48,344.14 L113.93,339.06 L114.39,334.71 L114.84,330.99 L115.29,327.81 L115.75,325.09 L116.20,322.75 L116.66,320.74 L117.11,319.02 L117.56,317.53 L118.02,316.25 L118.47,315.15 L118.93,314.19 L119.38,313.36 L119.83,312.64 L120.29,312.01 L120.74,311.46 L121.19,310.97 L121.65,310.55 L122.10,310.17 L122.56,309.83 L123.01,309.53 L123.46,309.26 L123.92,309.02 L124.37,308.80 L124.83,308.59 L125.28,308.41 L125.73,308.24 L126.19,308.07 L126.64,307.93 L127.09,307.79 L127.55,307.65 L128.00,307.52 L128.72,307.18 L129.43,307.04 L130.15,306.90 L130.86,306.76 L131.57,306.62 L132.29,306.48 L133.00,306.34 L133.72,306.20 L134.43,306.07 L135.15,305.93 L135.86,305.80 L136.57,305.67 L137.29,305.53 L138.00,305.40 L139.03,305.61 L139.98,306.00 L140.85,306.56 L141.60,307.28 L142.23,308.13 L142.70,309.11 L143.00,310.21 L143.10,311.40 L142.73,316.45 L142.56,321.49 L142.39,326.54 L142.21,331.59 L142.03,336.63 L141.84,341.68 L141.65,346.72 L141.44,351.77 L141.21,356.81 L140.96,361.86 L140.69,366.91 L140.40,371.95 L140.06,377.00 L139.69,382.04 L139.28,387.09 L138.82,392.13 L138.30,397.18 L137.71,402.23 L137.06,407.27 L136.33,412.32 L135.52,417.36 L134.61,422.41 L133.60,427.45 L132.47,432.50 L133.06,413.66 L133.64,397.61 L134.23,383.92 L134.81,372.25 L135.40,362.30 L135.98,353.81 L136.56,346.56 L137.15,340.38 L137.73,335.10 L138.32,330.58 L138.90,326.73 L139.49,323.43 L140.07,320.60 L140.66,318.18 L141.24,316.10 L141.82,314.31 L142.41,312.78 L142.99,311.45 L143.58,310.31 L144.16,309.32 L144.75,308.46 L145.33,307.71 L145.92,307.06 L146.50,306.49 L147.09,305.99 L147.67,305.55 L148.25,305.16 L148.84,304.81 L149.42,304.50 L150.01,304.22 L150.59,303.96 L151.18,303.73 L151.76,303.52 L152.35,303.33 L152.93,303.15 L153.51,302.98 L154.10,302.82 L154.68,302.68 L155.27,302.54 L155.85,302.40 L156.56,302.08 L157.26,301.97 L157.97,301.86 L158.67,301.75 L159.38,301.63 L160.08,301.53 L160.79,301.42 L161.49,301.31 L162.19,301.20 L162.90,301.10 L163.60,301.00 L164.31,300.90 L165.01,300.80 L165.72,300.69 L166.42,300.60 L167.13,300.50 L167.83,300.41 L168.54,300.31 L169.24,300.22 L169.95,300.13 L170.65,300.04 L171.36,299.95 L172.06,299.86 L172.76,299.77 L174.12,299.98 L175.38,300.37 L176.52,300.93 L177.52,301.64 L178.35,302.50 L178.97,303.48 L179.36,304.58 L179.50,305.77 L179.02,311.05 L178.79,316.33 L178.57,321.61 L178.33,326.89 L178.09,332.17 L177.85,337.45 L177.58,342.73 L177.30,348.01 L177.00,353.29 L176.68,358.57 L176.32,363.85 L175.93,369.13 L175.49,374.41 L175.00,379.70 L174.45,384.98 L173.83,390.26 L173.14,395.54 L172.37,400.82 L171.51,406.10 L170.54,411.38 L169.46,416.66 L168.25,421.94 L166.91,427.22 L165.41,432.50 L166.19,412.81 L166.96,396.03 L167.74,381.73 L168.51,369.54 L169.29,359.15 L170.06,350.29 L170.84,342.73 L171.61,336.28 L172.39,330.77 L173.16,326.08 L173.94,322.06 L174.71,318.63 L175.49,315.70 L176.26,313.19 L177.04,311.04 L177.81,309.20 L178.58,307.62 L179.36,306.26 L180.13,305.09 L180.91,304.08 L181.68,303.21 L182.46,302.46 L183.23,301.81 L184.01,301.24 L184.78,300.74 L185.56,300.31 L186.33,299.93 L187.11,299.59 L187.88,299.29 L188.66,299.03 L189.43,298.79 L190.20,298.57 L190.98,298.38 L191.75,298.20 L192.53,298.04 L193.30,297.89 L194.08,297.75 L194.85,297.62 L195.63,297.50 L196.40,297.38 L197.11,297.10 L197.82,297.03 L198.52,296.96 L199.23,296.89 L199.94,296.81 L200.64,296.75 L201.35,296.68 L202.06,296.61 L202.77,296.54 L203.47,296.47 L204.18,296.40 L204.89,296.33 L205.59,296.26 L206.30,296.19 L207.01,296.12 L207.72,296.06 L208.42,295.99 L209.13,295.92 L209.84,295.85 L210.54,295.79 L211.25,295.72 L211.96,295.65 L212.67,295.59 L213.37,295.52 L214.08,295.46 L214.79,295.39 L215.49,295.33 L216.20,295.26 L216.91,295.20 L217.61,295.13 L218.32,295.07 L219.03,295.01 L219.74,294.95 L220.44,294.88 L221.15,294.82 L221.86,294.76 L222.56,294.70 L223.27,294.64 L223.98,294.58 L224.69,294.52 L225.39,294.46 L226.10,294.40 L227.83,294.61 L229.44,295.00 L230.90,295.56 L232.17,296.28 L233.23,297.13 L234.02,298.11 L234.52,299.21 L234.70,300.40 L234.06,305.90 L233.75,311.41 L233.43,316.91 L233.11,322.42 L232.78,327.92 L232.44,333.43 L232.08,338.93 L231.70,344.43 L231.29,349.94 L230.84,355.44 L230.35,360.95 L229.81,366.45 L229.20,371.95 L228.53,377.46 L227.78,382.96 L226.94,388.47 L225.99,393.97 L224.93,399.48 L223.74,404.98 L222.41,410.48 L220.92,415.99 L219.27,421.49 L217.42,427.00 L215.37,432.50 L216.43,412.01 L217.50,394.55 L218.56,379.67 L219.62,366.99 L220.69,356.18 L221.75,346.97 L222.81,339.11 L223.88,332.41 L224.94,326.70 L226.00,321.82 L227.07,317.66 L228.13,314.10 L229.19,311.07 L230.25,308.48 L231.32,306.27 L232.38,304.37 L233.44,302.76 L234.51,301.38 L235.57,300.20 L236.63,299.19 L237.70,298.33 L238.76,297.59 L239.82,296.96 L240.89,296.43 L241.95,295.97 L243.01,295.57 L244.07,295.24 L245.14,294.95 L246.20,294.71 L247.26,294.50 L248.33,294.32 L249.39,294.16 L250.45,294.02 L251.52,293.89 L252.58,293.79 L253.64,293.71 L254.71,293.65 L255.77,293.60 L256.83,293.55 L257.89,293.52 L256.20,293.30 L254.50,293.30" fill="none" stroke="#111" stroke-width="0.95" stroke-linejoin="round"/>
</g>
<rect x="32.5" y="257.5" width="219" height="177.6" fill="none" stroke="#606060" stroke-width="1.2"/>
<rect x="34.5" y="259.5" width="189" height="31" fill="#fff" stroke="#222" stroke-width="1"/>
<rect x="32.5" y="257" width="191.5" height="2.6" fill="#8a8a8a"/>
<text x="37.0" y="268" font-size="7.7" font-weight="normal" text-anchor="start" fill="#111" textLength="174" lengthAdjust="spacingAndGlyphs" stroke="#111" stroke-width="0.22">Cyclic loading-unloading-reloading (LUR) tensile test</text>
<rect x="43" y="272.7" width="4" height="4" fill="#a0a0a0"/>
<text x="55.5" y="277" font-size="7.7" font-weight="normal" text-anchor="start" fill="#111" textLength="158.5" lengthAdjust="spacingAndGlyphs" stroke="#111" stroke-width="0.22">without correction for non-linear elastic behavior</text>
<rect x="43" y="282.2" width="4" height="4" fill="#000"/>
<text x="55.5" y="286.5" font-size="7.7" font-weight="normal" text-anchor="start" fill="#111" textLength="164" lengthAdjust="spacingAndGlyphs" stroke="#111" stroke-width="0.22">including correction for non-linear elastic behavior</text>
<line x1="179.6" y1="334" x2="179.6" y2="432" stroke="#666" stroke-width="1" stroke-dasharray="6,3"/>
<line x1="179.6" y1="432" x2="168" y2="432" stroke="#f01515" stroke-width="1.2"/>
<path d="M165.3,432 L169.3,430.25 L169.3,433.75 Z" fill="#f01515"/>
<text x="183.4" y="403" font-size="7.4" font-weight="bold" text-anchor="start" fill="#f01515"  stroke="#f01515" stroke-width="0.22">Inelastic</text>
<text x="183.4" y="412" font-size="7.4" font-weight="bold" text-anchor="start" fill="#f01515"  stroke="#f01515" stroke-width="0.22">back</text>
<text x="183.4" y="421" font-size="7.4" font-weight="bold" text-anchor="start" fill="#f01515"  stroke="#f01515" stroke-width="0.22">strain</text>
<text x="183.4" y="429.8" font-size="7.4" font-weight="bold" text-anchor="start" fill="#f01515"  stroke="#f01515" stroke-width="0.22">(IBS)</text>
<text transform="translate(22.0,346) rotate(-90)" font-size="13.2" text-anchor="middle" fill="#111" stroke="#111" stroke-width="0.22">true stress σ / MPa</text>
<text x="43" y="450" font-size="13.35" fill="#111" stroke="#111" stroke-width="0.22">(normalized) plastic strain ε<tspan font-size="9" dy="3.5">pl(,nl)</tspan><tspan dy="-3.5"> / -</tspan></text>
<text x="292.3" y="270" font-size="17" font-weight="bold" text-anchor="start" fill="#000"  stroke="#000" stroke-width="0.22">(d)</text>
<rect x="318.5" y="257.3" width="219.1" height="177.8" fill="none" stroke="#606060" stroke-width="1.2"/>
<path d="M320.9,259.5 L409.7,259.5 L409.7,284.7 L440.5,284.7 L440.5,432.2 L320.9,432.2 Z" fill="#f2f2f2" stroke="#b5b5b5" stroke-width="1.1"/>
<path d="M440.5,284.7 L450.3,365.2 M440.5,431.5 L450.3,430" stroke="#aaa" stroke-width="0.8" fill="none"/>
<rect x="450.3" y="365.2" width="4.5" height="65" fill="none" stroke="#bbb" stroke-width="0.8"/>
<line x1="369.6" y1="395.3" x2="369.6" y2="276" stroke="#555" stroke-width="1"/>
<path d="M369.6,272.6 L367.3,277.1 L371.90000000000003,277.1 Z" fill="#111"/>
<line x1="369.3" y1="395.3" x2="401.5" y2="395.3" stroke="#333" stroke-width="1.2"/>
<path d="M405.2,395.3 L400.2,393.0 L400.2,397.6 Z" fill="#111"/>
<rect x="369.4" y="303" width="18" height="10.6" fill="#f5b9b9" opacity="0.85"/>
<path d="M369.4,393.8 L369.4,315 C369.4,310 371.5,306 374.6,303.2 L377.6,296 C378.6,293.5 379.3,292.3 380,292.3 C381.2,292.4 381.5,294 381.5,298 C381.5,320 380.8,360 379.8,393.8" fill="none" stroke="#000" stroke-width="1.6" stroke-linejoin="round"/>
<path d="M374.4,393.8 L374.4,307 C374.4,305 374.5,304 374.7,303.4" fill="none" stroke="#000" stroke-width="1.4"/>
<path d="M375.9,393.8 L375.9,306 C375.9,303 376.2,300.5 376.6,299" fill="none" stroke="#000" stroke-width="1.4"/>
<line x1="369.4" y1="393.8" x2="369.4" y2="330" stroke="#000" stroke-width="2"/>
<line x1="388.5" y1="303.3" x2="388.5" y2="314" stroke="#000" stroke-width="1.2"/>
<line x1="388.5" y1="308" x2="394" y2="308" stroke="#000" stroke-width="1.2"/>
<path d="M397,308 L392.5,305.75 L392.5,310.25 Z" fill="#000"/>
<path d="M345.4,298.3 L345.4,302.6 L366.5,302.6" fill="none" stroke="#000" stroke-width="1.2"/>
<path d="M370.8,302.6 L366.3,300.35 L366.3,304.85 Z" fill="#000"/>
<path d="M345.4,318.4 L345.4,314.1 L363.8,314.1" fill="none" stroke="#000" stroke-width="1.2"/>
<path d="M367.8,314.1 L363.3,311.85 L363.3,316.35 Z" fill="#000"/>
<line x1="374.3" y1="403.3" x2="374.3" y2="399.5" stroke="#000" stroke-width="1.2"/>
<path d="M374.3,396.3 L372.3,400.3 L376.3,400.3 Z" fill="#000"/>
<text x="345.3" y="267.7" font-size="7.5" font-weight="bold" text-anchor="middle" fill="#111" stroke="#111" stroke-width="0.22">σ<tspan font-size="4.6" dy="2.4">max</tspan><tspan dy="-2.4"> at</tspan></text>
<text x="345.3" y="276.6" font-size="7.1" font-weight="bold" text-anchor="middle" fill="#111"  stroke="#111" stroke-width="0.22">previous</text>
<text x="345.3" y="284.5" font-size="7.1" font-weight="bold" text-anchor="middle" fill="#111"  stroke="#111" stroke-width="0.22">segment</text>
<text x="345.3" y="292.9" font-size="7.1" font-weight="bold" text-anchor="middle" fill="#111"  stroke="#111" stroke-width="0.22">(2)</text>
<text x="345.3" y="326" font-size="7.5" font-weight="bold" text-anchor="middle" fill="#111" stroke="#111" stroke-width="0.22">σ<tspan font-size="4.6" dy="2.4">max</tspan><tspan dy="-2.4"> at</tspan></text>
<text x="345.3" y="334.2" font-size="7.1" font-weight="bold" text-anchor="middle" fill="#111"  stroke="#111" stroke-width="0.22">penultimate</text>
<text x="345.3" y="342.3" font-size="7.1" font-weight="bold" text-anchor="middle" fill="#111"  stroke="#111" stroke-width="0.22">segment</text>
<text x="345.3" y="350.5" font-size="7.1" font-weight="bold" text-anchor="middle" fill="#111"  stroke="#111" stroke-width="0.22">(3)</text>
<text x="374.4" y="410.6" font-size="7.05" font-weight="bold" text-anchor="middle" fill="#111"  stroke="#111" stroke-width="0.22">First segment showing</text>
<text x="374.4" y="418.9" font-size="7.05" font-weight="bold" text-anchor="middle" fill="#111"  stroke="#111" stroke-width="0.22">residual plastic strain</text>
<text x="374.4" y="426.8" font-size="7.05" font-weight="bold" text-anchor="middle" fill="#111"  stroke="#111" stroke-width="0.22">(1)</text>
<text x="417.6" y="306.3" font-size="7.1" font-weight="bold" text-anchor="middle" fill="#f01515"  stroke="#f01515" stroke-width="0.22">Micro yield</text>
<text x="417.6" y="315.3" font-size="7.1" font-weight="bold" text-anchor="middle" fill="#f01515" stroke="#f01515" stroke-width="0.22">strength σ<tspan font-size="4.5" dy="2">Y</tspan></text>
<text x="416" y="323.5" font-size="7.1" font-weight="bold" text-anchor="middle" fill="#f01515"  stroke="#f01515" stroke-width="0.22">(4)</text>
<line x1="455" y1="431" x2="455" y2="316" stroke="#666" stroke-width="1.3"/>
<path d="M455,311.3 L452.5,315.8 L457.5,315.8 Z" fill="#111"/>
<line x1="452" y1="431" x2="530" y2="431" stroke="#444" stroke-width="1.2"/>
<path d="M535.5,431 L530.0,428.7 L530.0,433.3 Z" fill="#111"/>
<g clip-path="url(#clipd)">
<path d="M454.30,427.50 L454.30,427.50 L454.30,427.50 L454.36,427.53 L454.42,427.58 L454.47,427.65 L454.51,427.75 L454.55,427.86 L454.58,428.00 L454.59,428.14 L454.60,428.30 L454.60,428.27 L454.60,428.23 L454.60,428.20 L454.60,428.17 L454.60,428.13 L454.60,428.10 L454.60,428.07 L454.60,428.03 L454.60,428.00 L454.60,427.97 L454.60,427.93 L454.60,427.90 L454.60,427.87 L454.60,427.83 L454.60,427.80 L454.60,427.77 L454.60,427.73 L454.60,427.70 L454.60,427.67 L454.60,427.63 L454.60,427.60 L454.60,427.57 L454.60,427.53 L454.60,427.50 L454.62,420.94 L454.63,415.20 L454.65,410.20 L454.67,405.83 L454.68,402.02 L454.70,398.70 L454.72,395.79 L454.73,393.26 L454.75,391.03 L454.77,389.07 L454.78,387.36 L454.80,385.84 L454.81,384.50 L454.83,383.32 L454.85,382.26 L454.86,381.30 L454.88,380.46 L454.90,379.69 L454.91,378.99 L454.93,378.36 L454.95,377.78 L454.96,377.24 L454.98,376.75 L455.00,376.29 L455.01,375.86 L455.03,375.45 L455.05,375.07 L455.06,374.71 L455.08,374.36 L455.10,374.03 L455.11,373.71 L455.13,373.40 L455.14,373.10 L455.16,372.81 L455.18,372.52 L455.19,372.24 L455.21,371.97 L455.23,371.70 L455.24,371.44 L455.26,371.18 L454.61,387.50 L454.67,387.55 L454.72,387.63 L454.76,387.72 L454.80,387.84 L454.83,387.97 L454.84,388.11 L454.85,388.27 L454.85,389.91 L454.85,391.54 L454.85,393.18 L454.85,394.81 L454.85,396.45 L454.85,398.08 L454.85,399.71 L454.85,401.35 L454.85,402.98 L454.85,404.62 L454.85,406.25 L454.85,407.89 L454.85,409.52 L454.85,411.16 L454.85,412.79 L454.85,414.42 L454.85,416.06 L454.85,417.69 L454.85,419.33 L454.85,420.96 L454.85,422.60 L454.85,424.23 L454.85,425.87 L454.85,427.50 L454.87,419.93 L454.88,413.41 L454.90,407.81 L454.92,402.97 L454.93,398.81 L454.95,395.22 L454.97,392.11 L454.98,389.42 L455.00,387.09 L455.02,385.06 L455.03,383.29 L455.05,381.75 L455.06,380.39 L455.08,379.19 L455.10,378.14 L455.11,377.21 L455.13,376.37 L455.15,375.63 L455.16,374.96 L455.18,374.35 L455.20,373.79 L455.21,373.28 L455.23,372.82 L455.25,372.38 L455.26,371.98 L455.28,371.61 L455.30,371.27 L455.31,370.94 L455.33,370.63 L455.35,370.34 L455.36,370.06 L455.38,369.80 L455.39,369.55 L455.41,369.31 L455.43,369.07 L455.44,368.85 L455.46,368.63 L455.48,368.42 L455.49,368.21 L455.51,368.02 L454.85,379.36 L454.91,379.42 L454.96,379.49 L455.01,379.59 L455.05,379.71 L455.08,379.84 L455.09,379.99 L455.10,380.16 L455.10,382.13 L455.10,384.10 L455.10,386.08 L455.10,388.05 L455.10,390.02 L455.10,391.99 L455.11,393.97 L455.11,395.94 L455.11,397.91 L455.11,399.88 L455.11,401.86 L455.11,403.83 L455.11,405.80 L455.11,407.77 L455.11,409.75 L455.10,411.72 L455.10,413.69 L455.10,415.66 L455.09,417.64 L455.09,419.61 L455.08,421.58 L455.08,423.55 L455.07,425.53 L455.06,427.50 L455.08,419.35 L455.09,412.37 L455.11,406.38 L455.13,401.23 L455.14,396.81 L455.16,393.01 L455.18,389.74 L455.19,386.91 L455.21,384.46 L455.23,382.34 L455.24,380.51 L455.26,378.90 L455.28,377.51 L455.29,376.30 L455.31,375.23 L455.33,374.29 L455.34,373.46 L455.36,372.72 L455.37,372.06 L455.39,371.48 L455.41,370.96 L455.42,370.48 L455.44,370.05 L455.46,369.66 L455.47,369.31 L455.49,368.97 L455.51,368.67 L455.52,368.39 L455.54,368.12 L455.56,367.87 L455.57,367.63 L455.59,367.41 L455.61,367.20 L455.62,366.99 L455.64,366.80 L455.66,366.61 L455.67,366.43 L455.69,366.25 L455.70,366.09 L455.72,365.92 L455.09,374.94 L455.15,375.00 L455.20,375.08 L455.25,375.19 L455.29,375.31 L455.32,375.46 L455.34,375.62 L455.35,375.80 L455.35,377.95 L455.35,380.11 L455.36,382.26 L455.36,384.41 L455.36,386.57 L455.37,388.72 L455.37,390.88 L455.38,393.03 L455.38,395.19 L455.38,397.34 L455.38,399.49 L455.38,401.65 L455.38,403.80 L455.38,405.96 L455.37,408.11 L455.37,410.27 L455.36,412.42 L455.34,414.57 L455.33,416.73 L455.31,418.88 L455.29,421.04 L455.27,423.19 L455.24,425.35 L455.21,427.50 L455.23,418.99 L455.25,411.71 L455.26,405.47 L455.28,400.12 L455.30,395.53 L455.31,391.60 L455.33,388.22 L455.35,385.31 L455.36,382.80 L455.38,380.63 L455.40,378.77 L455.41,377.15 L455.43,375.74 L455.44,374.52 L455.46,373.46 L455.48,372.53 L455.49,371.71 L455.51,370.99 L455.53,370.35 L455.54,369.79 L455.56,369.28 L455.58,368.83 L455.59,368.42 L455.61,368.05 L455.63,367.71 L455.64,367.41 L455.66,367.13 L455.68,366.86 L455.69,366.61 L455.71,366.39 L455.73,366.17 L455.74,365.97 L455.76,365.77 L455.77,365.59 L455.79,365.41 L455.81,365.24 L455.82,365.07 L455.84,364.91 L455.86,364.76 L455.87,364.61 L455.12,374.30 L455.19,374.36 L455.24,374.44 L455.29,374.55 L455.33,374.68 L455.37,374.83 L455.39,374.99 L455.39,375.17 L455.39,377.35 L455.40,379.53 L455.40,381.71 L455.40,383.89 L455.41,386.07 L455.41,388.25 L455.42,390.43 L455.42,392.61 L455.42,394.79 L455.43,396.97 L455.43,399.15 L455.43,401.33 L455.43,403.51 L455.43,405.69 L455.42,407.88 L455.41,410.06 L455.40,412.24 L455.39,414.42 L455.37,416.60 L455.35,418.78 L455.32,420.96 L455.30,423.14 L455.27,425.32 L455.24,427.50 L455.26,418.93 L455.27,411.60 L455.29,405.32 L455.31,399.95 L455.32,395.33 L455.34,391.38 L455.35,387.98 L455.37,385.06 L455.39,382.54 L455.40,380.38 L455.42,378.50 L455.44,376.88 L455.45,375.48 L455.47,374.26 L455.49,373.19 L455.50,372.26 L455.52,371.44 L455.54,370.73 L455.55,370.09 L455.57,369.53 L455.59,369.03 L455.60,368.58 L455.62,368.17 L455.64,367.80 L455.65,367.47 L455.67,367.17 L455.68,366.88 L455.70,366.62 L455.72,366.38 L455.73,366.16 L455.75,365.94 L455.77,365.74 L455.78,365.55 L455.80,365.37 L455.82,365.19 L455.83,365.02 L455.85,364.86 L455.87,364.70 L455.88,364.55 L455.90,364.39 L455.32,371.35 L455.38,371.41 L455.44,371.50 L455.50,371.61 L455.54,371.75 L455.57,371.90 L455.59,372.07 L455.60,372.26 L455.60,374.56 L455.60,376.87 L455.61,379.17 L455.62,381.47 L455.62,383.77 L455.63,386.07 L455.64,388.37 L455.64,390.68 L455.65,392.98 L455.65,395.28 L455.66,397.58 L455.66,399.88 L455.66,402.18 L455.65,404.48 L455.64,406.79 L455.63,409.09 L455.61,411.39 L455.59,413.69 L455.56,415.99 L455.53,418.29 L455.50,420.60 L455.46,422.90 L455.41,425.20 L455.37,427.50 L455.38,418.67 L455.40,411.12 L455.42,404.67 L455.43,399.15 L455.45,394.43 L455.46,390.39 L455.48,386.92 L455.50,383.95 L455.51,381.39 L455.53,379.19 L455.55,377.30 L455.56,375.66 L455.58,374.25 L455.60,373.03 L455.61,371.96 L455.63,371.03 L455.65,370.22 L455.66,369.51 L455.68,368.89 L455.70,368.33 L455.71,367.84 L455.73,367.40 L455.75,367.01 L455.76,366.65 L455.78,366.33 L455.79,366.04 L455.81,365.77 L455.83,365.52 L455.84,365.28 L455.86,365.07 L455.88,364.87 L455.89,364.67 L455.91,364.49 L455.93,364.31 L455.94,364.15 L455.96,363.99 L455.98,363.83 L455.99,363.68 L456.01,363.53 L456.03,363.38 L455.45,369.53 L455.52,369.60 L455.58,369.69 L455.64,369.81 L455.68,369.95 L455.72,370.11 L455.74,370.29 L455.75,370.49 L455.75,372.86 L455.75,375.24 L455.76,377.61 L455.76,379.99 L455.77,382.36 L455.78,384.74 L455.79,387.12 L455.80,389.49 L455.81,391.87 L455.81,394.24 L455.82,396.62 L455.82,398.99 L455.82,401.37 L455.81,403.74 L455.80,406.12 L455.78,408.50 L455.76,410.87 L455.73,413.25 L455.70,415.62 L455.66,418.00 L455.62,420.37 L455.57,422.75 L455.51,425.12 L455.45,427.50 L455.47,418.51 L455.49,410.83 L455.50,404.27 L455.52,398.67 L455.54,393.88 L455.55,389.77 L455.57,386.26 L455.59,383.26 L455.60,380.67 L455.62,378.45 L455.64,376.55 L455.65,374.90 L455.67,373.48 L455.69,372.25 L455.70,371.19 L455.72,370.26 L455.73,369.45 L455.75,368.74 L455.77,368.12 L455.78,367.57 L455.80,367.08 L455.82,366.65 L455.83,366.26 L455.85,365.91 L455.87,365.59 L455.88,365.30 L455.90,365.04 L455.92,364.79 L455.93,364.56 L455.95,364.35 L455.97,364.15 L455.98,363.96 L456.00,363.78 L456.02,363.61 L456.03,363.45 L456.05,363.29 L456.06,363.13 L456.08,362.98 L456.10,362.84 L456.11,362.69 L455.55,368.38 L455.62,368.45 L455.68,368.55 L455.74,368.67 L455.79,368.81 L455.82,368.98 L455.84,369.16 L455.85,369.36 L455.85,371.78 L455.86,374.21 L455.86,376.63 L455.87,379.05 L455.88,381.47 L455.89,383.90 L455.90,386.32 L455.91,388.74 L455.92,391.16 L455.93,393.59 L455.93,396.01 L455.93,398.43 L455.93,400.85 L455.92,403.28 L455.91,405.70 L455.89,408.12 L455.87,410.54 L455.84,412.97 L455.80,415.39 L455.75,417.81 L455.70,420.23 L455.65,422.66 L455.59,425.08 L455.52,427.50 L455.54,418.40 L455.55,410.62 L455.57,403.98 L455.59,398.31 L455.61,393.45 L455.63,389.30 L455.65,385.75 L455.66,382.70 L455.68,380.08 L455.70,377.83 L455.72,375.89 L455.74,374.23 L455.76,372.78 L455.77,371.53 L455.79,370.45 L455.81,369.51 L455.83,368.68 L455.85,367.96 L455.86,367.33 L455.88,366.77 L455.90,366.27 L455.92,365.82 L455.94,365.42 L455.96,365.06 L455.97,364.74 L455.99,364.44 L456.01,364.16 L456.03,363.91 L456.05,363.67 L456.07,363.44 L456.08,363.23 L456.10,363.03 L456.12,362.84 L456.14,362.66 L456.16,362.48 L456.17,362.31 L456.19,362.14 L456.21,361.98 L456.23,361.83 L456.25,361.67 L455.78,366.06 L455.86,366.13 L455.92,366.23 L455.98,366.36 L456.03,366.51 L456.07,366.69 L456.09,366.88 L456.10,367.09 L456.10,369.61 L456.11,372.13 L456.12,374.65 L456.13,377.16 L456.14,379.68 L456.15,382.20 L456.17,384.71 L456.18,387.23 L456.19,389.75 L456.20,392.26 L456.21,394.78 L456.21,397.30 L456.20,399.81 L456.19,402.33 L456.18,404.85 L456.15,407.36 L456.12,409.88 L456.08,412.40 L456.03,414.92 L455.98,417.43 L455.91,419.95 L455.84,422.47 L455.76,424.98 L455.67,427.50 L455.69,418.16 L455.72,410.18 L455.74,403.35 L455.77,397.52 L455.79,392.52 L455.81,388.24 L455.84,384.57 L455.86,381.43 L455.88,378.72 L455.91,376.39 L455.93,374.39 L455.95,372.65 L455.98,371.15 L456.00,369.84 L456.02,368.71 L456.05,367.71 L456.07,366.84 L456.10,366.07 L456.12,365.39 L456.14,364.79 L456.17,364.24 L456.19,363.76 L456.21,363.32 L456.24,362.92 L456.26,362.55 L456.28,362.22 L456.31,361.91 L456.33,361.62 L456.36,361.35 L456.38,361.09 L456.40,360.86 L456.43,360.63 L456.45,360.41 L456.47,360.21 L456.50,360.01 L456.52,359.82 L456.54,359.64 L456.57,359.46 L456.59,359.29 L456.61,359.13 L456.01,364.11 L456.09,364.18 L456.16,364.29 L456.23,364.43 L456.28,364.59 L456.32,364.77 L456.34,364.98 L456.35,365.21 L456.35,367.80 L456.36,370.40 L456.37,372.99 L456.38,375.59 L456.40,378.19 L456.42,380.78 L456.43,383.38 L456.45,385.97 L456.46,388.57 L456.47,391.16 L456.48,393.76 L456.48,396.35 L456.48,398.95 L456.46,401.54 L456.44,404.14 L456.42,406.74 L456.38,409.33 L456.33,411.93 L456.27,414.52 L456.20,417.12 L456.12,419.71 L456.03,422.31 L455.93,424.90 L455.82,427.50 L455.85,417.95 L455.88,409.78 L455.91,402.79 L455.94,396.81 L455.97,391.69 L456.00,387.29 L456.03,383.52 L456.06,380.28 L456.08,377.49 L456.11,375.08 L456.14,372.99 L456.17,371.19 L456.20,369.62 L456.23,368.25 L456.26,367.06 L456.29,366.02 L456.32,365.10 L456.34,364.28 L456.37,363.57 L456.40,362.93 L456.43,362.35 L456.46,361.84 L456.49,361.37 L456.52,360.95 L456.55,360.56 L456.58,360.21 L456.61,359.89 L456.63,359.59 L456.66,359.30 L456.69,359.05 L456.72,358.80 L456.75,358.57 L456.78,358.35 L456.81,358.14 L456.84,357.94 L456.87,357.75 L456.89,357.56 L456.92,357.39 L456.95,357.22 L456.98,357.06 L456.07,363.63 L456.15,363.71 L456.23,363.82 L456.29,363.95 L456.34,364.12 L456.38,364.31 L456.41,364.52 L456.42,364.75 L456.42,367.36 L456.43,369.98 L456.44,372.59 L456.45,375.21 L456.47,377.82 L456.48,380.44 L456.50,383.05 L456.52,385.67 L456.53,388.28 L456.54,390.89 L456.55,393.51 L456.55,396.12 L456.55,398.74 L456.54,401.35 L456.51,403.97 L456.48,406.58 L456.44,409.20 L456.39,411.81 L456.33,414.43 L456.26,417.04 L456.17,419.66 L456.08,422.27 L455.98,424.89 L455.86,427.50 L455.89,417.89 L455.92,409.68 L455.95,402.65 L455.99,396.64 L456.02,391.48 L456.05,387.06 L456.08,383.25 L456.11,379.99 L456.14,377.17 L456.17,374.74 L456.20,372.64 L456.23,370.81 L456.26,369.23 L456.29,367.85 L456.32,366.65 L456.35,365.59 L456.38,364.66 L456.41,363.84 L456.44,363.12 L456.47,362.47 L456.50,361.89 L456.53,361.37 L456.56,360.90 L456.59,360.48 L456.62,360.09 L456.65,359.74 L456.68,359.41 L456.71,359.11 L456.74,358.83 L456.77,358.56 L456.80,358.32 L456.84,358.09 L456.87,357.87 L456.90,357.66 L456.93,357.47 L456.96,357.28 L456.99,357.09 L457.02,356.91 L457.05,356.75 L457.08,356.59 L456.25,362.32 L456.33,362.40 L456.40,362.51 L456.47,362.66 L456.52,362.83 L456.56,363.02 L456.59,363.24 L456.60,363.48 L456.60,366.15 L456.61,368.82 L456.63,371.48 L456.64,374.15 L456.66,376.82 L456.68,379.49 L456.70,382.15 L456.72,384.82 L456.73,387.49 L456.75,390.16 L456.75,392.82 L456.76,395.49 L456.75,398.16 L456.74,400.83 L456.71,403.49 L456.68,406.16 L456.63,408.83 L456.57,411.50 L456.50,414.16 L456.42,416.83 L456.33,419.50 L456.22,422.17 L456.10,424.83 L455.98,427.50 L456.01,417.75 L456.04,409.41 L456.08,402.27 L456.11,396.15 L456.15,390.90 L456.18,386.39 L456.22,382.51 L456.25,379.18 L456.28,376.30 L456.32,373.81 L456.35,371.66 L456.39,369.80 L456.42,368.18 L456.46,366.77 L456.49,365.54 L456.53,364.46 L456.56,363.51 L456.59,362.67 L456.63,361.93 L456.66,361.27 L456.70,360.69 L456.73,360.16 L456.77,359.69 L456.80,359.26 L456.83,358.87 L456.87,358.51 L456.90,358.18 L456.94,357.89 L456.97,357.61 L457.01,357.34 L457.04,357.10 L457.07,356.87 L457.11,356.66 L457.14,356.45 L457.18,356.26 L457.21,356.07 L457.25,355.90 L457.28,355.72 L457.31,355.56 L457.35,355.40 L456.48,360.63 L456.56,360.71 L456.64,360.83 L456.71,360.98 L456.77,361.16 L456.81,361.37 L456.84,361.60 L456.85,361.85 L456.86,364.59 L456.87,367.32 L456.88,370.06 L456.90,372.79 L456.92,375.53 L456.94,378.26 L456.96,381.00 L456.98,383.73 L457.00,386.47 L457.02,389.20 L457.03,391.94 L457.03,394.68 L457.02,397.41 L457.01,400.15 L456.98,402.88 L456.94,405.62 L456.89,408.35 L456.82,411.09 L456.74,413.82 L456.64,416.56 L456.53,419.29 L456.41,422.03 L456.27,424.76 L456.13,427.50 L456.17,417.57 L456.21,409.06 L456.25,401.76 L456.29,395.51 L456.33,390.14 L456.37,385.53 L456.41,381.56 L456.45,378.14 L456.49,375.20 L456.53,372.65 L456.57,370.45 L456.60,368.54 L456.64,366.89 L456.68,365.45 L456.72,364.19 L456.76,363.09 L456.80,362.12 L456.84,361.28 L456.88,360.52 L456.92,359.86 L456.96,359.27 L457.00,358.74 L457.04,358.26 L457.08,357.83 L457.12,357.44 L457.16,357.09 L457.20,356.77 L457.24,356.47 L457.28,356.19 L457.32,355.93 L457.36,355.70 L457.40,355.47 L457.44,355.25 L457.48,355.05 L457.52,354.86 L457.56,354.67 L457.60,354.49 L457.64,354.32 L457.68,354.15 L457.72,353.99 L456.71,359.11 L456.80,359.19 L456.88,359.32 L456.96,359.47 L457.02,359.66 L457.06,359.88 L457.09,360.12 L457.10,360.39 L457.11,363.18 L457.12,365.98 L457.13,368.77 L457.15,371.57 L457.18,374.37 L457.20,377.16 L457.23,379.96 L457.25,382.76 L457.27,385.55 L457.29,388.35 L457.30,391.15 L457.30,393.94 L457.30,396.74 L457.28,399.54 L457.25,402.33 L457.20,405.13 L457.14,407.92 L457.06,410.72 L456.97,413.52 L456.86,416.31 L456.74,419.11 L456.60,421.91 L456.45,424.70 L456.28,427.50 L456.33,417.39 L456.37,408.72 L456.42,401.29 L456.46,394.91 L456.51,389.44 L456.55,384.73 L456.60,380.69 L456.64,377.20 L456.69,374.20 L456.73,371.61 L456.78,369.37 L456.82,367.43 L456.87,365.75 L456.91,364.29 L456.96,363.02 L457.00,361.90 L457.05,360.93 L457.09,360.08 L457.14,359.32 L457.18,358.65 L457.23,358.06 L457.27,357.53 L457.32,357.05 L457.36,356.63 L457.41,356.24 L457.45,355.88 L457.50,355.56 L457.54,355.26 L457.59,354.98 L457.63,354.71 L457.68,354.47 L457.72,354.24 L457.77,354.02 L457.81,353.82 L457.86,353.62 L457.90,353.43 L457.95,353.25 L457.99,353.08 L458.04,352.91 L458.08,352.74 L456.94,357.77 L457.04,357.86 L457.12,357.99 L457.20,358.15 L457.26,358.35 L457.31,358.58 L457.34,358.83 L457.35,359.11 L457.36,361.96 L457.37,364.81 L457.39,367.66 L457.41,370.51 L457.44,373.35 L457.47,376.20 L457.49,379.05 L457.52,381.90 L457.55,384.75 L457.56,387.60 L457.58,390.45 L457.58,393.30 L457.57,396.15 L457.55,399.00 L457.51,401.85 L457.46,404.70 L457.39,407.55 L457.31,410.40 L457.21,413.25 L457.08,416.10 L456.95,418.95 L456.79,421.80 L456.62,424.65 L456.43,427.50 L456.48,417.22 L456.53,408.40 L456.58,400.84 L456.64,394.36 L456.69,388.79 L456.74,384.01 L456.79,379.90 L456.84,376.37 L456.89,373.32 L456.94,370.69 L456.99,368.42 L457.04,366.46 L457.09,364.76 L457.14,363.28 L457.19,362.00 L457.24,360.88 L457.29,359.90 L457.34,359.04 L457.39,358.28 L457.44,357.60 L457.49,357.01 L457.54,356.47 L457.59,355.99 L457.64,355.55 L457.69,355.16 L457.74,354.80 L457.79,354.47 L457.84,354.17 L457.90,353.88 L457.95,353.62 L458.00,353.37 L458.05,353.14 L458.10,352.92 L458.15,352.71 L458.20,352.51 L458.25,352.32 L458.30,352.13 L458.35,351.95 L458.40,351.78 L458.45,351.61 L457.26,356.22 L457.36,356.31 L457.45,356.45 L457.53,356.63 L457.60,356.84 L457.65,357.08 L457.68,357.34 L457.69,357.64 L457.70,360.55 L457.71,363.46 L457.73,366.37 L457.76,369.28 L457.79,372.19 L457.82,375.10 L457.85,378.01 L457.89,380.93 L457.91,383.84 L457.94,386.75 L457.95,389.66 L457.95,392.57 L457.94,395.48 L457.92,398.39 L457.88,401.30 L457.82,404.21 L457.74,407.12 L457.64,410.03 L457.52,412.95 L457.39,415.86 L457.23,418.77 L457.05,421.68 L456.85,424.59 L456.64,427.50 L456.70,417.01 L456.76,408.02 L456.81,400.31 L456.87,393.70 L456.93,388.03 L456.99,383.16 L457.04,378.97 L457.10,375.38 L457.16,372.28 L457.22,369.62 L457.28,367.31 L457.33,365.33 L457.39,363.60 L457.45,362.10 L457.51,360.80 L457.56,359.67 L457.62,358.67 L457.68,357.79 L457.74,357.02 L457.79,356.33 L457.85,355.73 L457.91,355.18 L457.97,354.69 L458.03,354.25 L458.08,353.85 L458.14,353.48 L458.20,353.15 L458.26,352.84 L458.31,352.55 L458.37,352.28 L458.43,352.03 L458.49,351.79 L458.54,351.57 L458.60,351.35 L458.66,351.15 L458.72,350.95 L458.78,350.76 L458.83,350.58 L458.89,350.40 L458.95,350.23 L459.15,349.61 L459.35,349.10 L459.50,349.18 L459.65,349.31 L459.77,349.50 L459.89,349.75 L459.98,350.05 L460.05,350.39 L460.09,350.77 L460.11,351.18 L460.12,354.36 L460.14,357.54 L460.17,360.72 L460.21,363.90 L460.24,367.08 L460.29,370.26 L460.33,373.44 L460.37,376.62 L460.40,379.80 L460.43,382.98 L460.45,386.16 L460.45,389.34 L460.44,392.52 L460.40,395.70 L460.35,398.88 L460.27,402.06 L460.17,405.24 L460.04,408.42 L459.89,411.60 L459.71,414.78 L459.51,417.96 L459.28,421.14 L459.02,424.32 L458.75,427.50 L458.83,415.78 L458.90,405.79 L458.97,397.26 L459.05,389.99 L459.12,383.78 L459.20,378.47 L459.27,373.93 L459.35,370.05 L459.42,366.72 L459.50,363.87 L459.57,361.42 L459.65,359.31 L459.72,357.49 L459.80,355.92 L459.87,354.55 L459.95,353.36 L460.02,352.33 L460.10,351.42 L460.17,350.62 L460.25,349.92 L460.32,349.30 L460.40,348.74 L460.47,348.24 L460.55,347.80 L460.62,347.39 L460.70,347.03 L460.77,346.69 L460.84,346.39 L460.92,346.10 L460.99,345.84 L461.07,345.59 L461.14,345.37 L461.22,345.15 L461.29,344.95 L461.37,344.76 L461.44,344.57 L461.52,344.40 L461.59,344.23 L461.67,344.07 L461.74,343.92 L462.64,342.32 L463.54,341.02 L463.77,341.14 L463.99,341.35 L464.19,341.65 L464.37,342.03 L464.51,342.49 L464.62,343.02 L464.69,343.61 L464.71,344.25 L464.73,347.72 L464.76,351.19 L464.80,354.66 L464.84,358.13 L464.90,361.60 L464.95,365.06 L465.00,368.53 L465.06,372.00 L465.10,375.47 L465.13,378.94 L465.15,382.41 L465.15,385.88 L465.13,389.34 L465.09,392.81 L465.01,396.28 L464.91,399.75 L464.78,403.22 L464.61,406.69 L464.41,410.16 L464.18,413.63 L463.91,417.09 L463.62,420.56 L463.29,424.03 L462.94,427.50 L463.03,414.46 L463.13,403.36 L463.23,393.91 L463.33,385.86 L463.42,379.01 L463.52,373.17 L463.62,368.19 L463.72,363.94 L463.81,360.31 L463.91,357.20 L464.01,354.54 L464.11,352.26 L464.20,350.31 L464.30,348.63 L464.40,347.18 L464.50,345.93 L464.59,344.85 L464.69,343.91 L464.79,343.09 L464.89,342.37 L464.98,341.75 L465.08,341.20 L465.18,340.71 L465.28,340.27 L465.38,339.88 L465.47,339.54 L465.57,339.22 L465.67,338.94 L465.77,338.67 L465.86,338.43 L465.96,338.21 L466.06,338.00 L466.16,337.81 L466.25,337.63 L466.35,337.45 L466.45,337.28 L466.55,337.13 L466.64,336.98 L466.74,336.84 L466.84,336.70 L467.61,335.67 L468.39,334.84 L469.16,334.07 L469.94,333.37 L470.71,332.73 L471.49,332.13 L471.88,332.32 L472.25,332.67 L472.58,333.18 L472.87,333.82 L473.11,334.59 L473.29,335.48 L473.41,336.47 L473.45,337.54 L473.50,341.29 L473.54,345.04 L473.60,348.79 L473.67,352.54 L473.75,356.28 L473.83,360.03 L473.90,363.78 L473.97,367.53 L474.03,371.28 L474.07,375.02 L474.09,378.77 L474.08,382.52 L474.04,386.27 L473.97,390.02 L473.86,393.77 L473.71,397.51 L473.52,401.26 L473.27,405.01 L472.99,408.76 L472.65,412.51 L472.27,416.26 L471.85,420.00 L471.39,423.75 L470.89,427.50 L471.03,413.05 L471.17,400.76 L471.31,390.32 L471.45,381.44 L471.59,373.88 L471.73,367.45 L471.87,361.98 L472.01,357.32 L472.16,353.34 L472.30,349.96 L472.44,347.07 L472.58,344.60 L472.72,342.49 L472.86,340.68 L473.00,339.14 L473.14,337.81 L473.28,336.67 L473.42,335.68 L473.56,334.83 L473.70,334.10 L473.85,333.46 L473.99,332.91 L474.13,332.42 L474.27,332.00 L474.41,331.62 L474.55,331.29 L474.69,330.99 L474.83,330.73 L474.97,330.50 L475.11,330.28 L475.25,330.09 L475.39,329.91 L475.54,329.75 L475.68,329.59 L475.82,329.46 L475.96,329.33 L476.10,329.20 L476.24,329.09 L476.38,328.98 L476.52,328.87 L477.24,328.33 L477.96,327.94 L478.68,327.57 L479.40,327.21 L480.12,326.86 L480.84,326.53 L481.56,326.21 L482.28,325.90 L483.00,325.60 L483.72,325.31 L484.44,325.02 L485.16,324.74 L485.88,324.47 L486.60,324.21 L487.29,324.43 L487.94,324.86 L488.53,325.46 L489.04,326.24 L489.46,327.16 L489.78,328.23 L489.98,329.41 L490.05,330.71 L490.14,334.74 L490.22,338.77 L490.31,342.81 L490.42,346.84 L490.54,350.87 L490.66,354.91 L490.78,358.94 L490.89,362.97 L490.98,367.00 L491.04,371.04 L491.07,375.07 L491.05,379.10 L490.99,383.14 L490.87,387.17 L490.70,391.20 L490.45,395.24 L490.14,399.27 L489.76,403.30 L489.30,407.33 L488.78,411.37 L488.18,415.40 L487.51,419.43 L486.79,423.47 L486.00,427.50 L486.22,411.81 L486.44,398.48 L486.67,387.16 L486.89,377.54 L487.11,369.37 L487.34,362.42 L487.56,356.52 L487.78,351.49 L488.00,347.22 L488.23,343.58 L488.45,340.48 L488.67,337.83 L488.90,335.58 L489.12,333.66 L489.34,332.02 L489.57,330.61 L489.79,329.41 L490.01,328.38 L490.24,327.49 L490.46,326.73 L490.68,326.07 L490.90,325.50 L491.13,325.00 L491.35,324.57 L491.57,324.20 L491.80,323.87 L492.02,323.58 L492.24,323.32 L492.47,323.09 L492.69,322.88 L492.91,322.70 L493.13,322.53 L493.36,322.38 L493.58,322.24 L493.80,322.11 L494.03,321.99 L494.25,321.88 L494.47,321.77 L494.70,321.67 L494.92,321.58 L495.62,321.21 L496.32,320.99 L497.03,320.78 L497.73,320.57 L498.43,320.35 L499.14,320.15 L499.84,319.94 L500.54,319.73 L501.25,319.52 L501.95,319.32 L502.65,319.12 L503.35,318.92 L504.06,318.72 L504.76,318.52 L505.46,318.33 L506.17,318.13 L506.87,317.94 L507.57,317.75 L508.28,317.56 L508.98,317.37 L509.68,317.18 L510.38,317.00 L511.09,316.81 L511.79,316.63 L512.49,316.46 L513.20,316.28 L513.90,316.10 L514.60,315.94 L515.31,315.77 L516.57,316.00 L517.75,316.42 L518.82,317.03 L519.75,317.80 L520.52,318.73 L521.10,319.79 L521.47,320.98 L521.60,322.27 L521.74,326.65 L521.86,331.04 L522.02,335.42 L522.21,339.81 L522.41,344.19 L522.62,348.58 L522.82,352.96 L523.01,357.35 L523.16,361.73 L523.27,366.12 L523.32,370.50 L523.30,374.89 L523.20,379.27 L523.01,383.65 L522.71,388.04 L522.30,392.42 L521.77,396.81 L521.12,401.19 L520.35,405.58 L519.45,409.96 L518.43,414.35 L517.30,418.73 L516.05,423.12 L514.71,427.50 L515.09,410.51 L515.46,396.08 L515.84,383.83 L516.22,373.42 L516.60,364.57 L516.98,357.05 L517.36,350.66 L517.74,345.22 L518.12,340.59 L518.50,336.66 L518.88,333.31 L519.26,330.46 L519.64,328.02 L520.01,325.95 L520.39,324.17 L520.77,322.66 L521.15,321.37 L521.53,320.26 L521.91,319.31 L522.29,318.49 L522.67,317.78 L523.05,317.17 L523.43,316.65 L523.81,316.19 L524.19,315.79 L524.56,315.45 L524.94,315.14 L525.32,314.87 L525.70,314.64 L526.08,314.42 L526.46,314.24 L526.84,314.06 L527.22,313.91 L527.60,313.77 L527.98,313.64 L528.36,313.52 L528.74,313.41 L529.11,313.31 L529.49,313.21 L529.87,313.12 L530.94,312.79 L532.00,312.61 L533.06,312.44 L534.12,312.26 L535.19,312.09 L536.25,311.91 L537.31,311.72 L538.37,311.60 L539.44,311.60 L540.50,311.60" fill="none" stroke="#000" stroke-width="1.0" stroke-linejoin="round"/>
<path d="M454.30,427.50 L454.30,427.50 L454.30,427.50 L454.36,427.53 L454.41,427.58 L454.46,427.65 L454.50,427.75 L454.53,427.86 L454.55,428.00 L454.56,428.14 L454.56,428.30 L454.56,428.27 L454.56,428.23 L454.56,428.20 L454.56,428.17 L454.57,428.13 L454.57,428.10 L454.57,428.07 L454.57,428.03 L454.57,428.00 L454.58,427.97 L454.58,427.93 L454.58,427.90 L454.58,427.87 L454.58,427.83 L454.58,427.80 L454.59,427.77 L454.59,427.73 L454.59,427.70 L454.59,427.67 L454.59,427.63 L454.59,427.60 L454.60,427.57 L454.60,427.53 L454.60,427.50 L454.97,420.94 L455.29,415.20 L455.45,410.20 L455.47,405.83 L455.48,402.02 L455.50,398.70 L455.52,395.79 L455.53,393.26 L455.55,391.03 L455.57,389.07 L455.58,387.36 L455.60,385.84 L455.61,384.50 L455.63,383.32 L455.65,382.26 L455.66,381.30 L455.68,380.46 L455.70,379.69 L455.71,378.99 L455.73,378.36 L455.75,377.78 L455.76,377.24 L455.78,376.75 L455.80,376.29 L455.81,375.86 L455.83,375.45 L455.85,375.07 L455.86,374.71 L455.88,374.36 L455.90,374.03 L455.91,373.71 L455.93,373.40 L455.94,373.10 L455.96,372.81 L455.98,372.52 L455.99,372.24 L456.01,371.97 L456.03,371.70 L456.04,371.44 L456.06,371.18 L455.41,387.50 L455.47,387.55 L455.52,387.63 L455.56,387.72 L455.60,387.84 L455.63,387.97 L455.64,388.11 L455.65,388.27 L455.65,389.91 L455.65,391.54 L455.65,393.18 L455.65,394.81 L455.65,396.45 L455.65,398.08 L455.65,399.71 L455.65,401.35 L455.65,402.98 L455.65,404.62 L455.65,406.25 L455.65,407.89 L455.65,409.52 L455.65,411.16 L455.63,412.79 L455.55,414.42 L455.46,416.06 L455.37,417.69 L455.29,419.33 L455.20,420.96 L455.11,422.60 L455.02,424.23 L454.94,425.87 L454.85,427.50 L455.27,419.93 L455.63,413.41 L455.70,407.81 L455.72,402.97 L455.73,398.81 L455.75,395.22 L455.77,392.11 L455.78,389.42 L455.80,387.09 L455.82,385.06 L455.83,383.29 L455.85,381.75 L455.86,380.39 L455.88,379.19 L455.90,378.14 L455.91,377.21 L455.93,376.37 L455.95,375.63 L455.96,374.96 L455.98,374.35 L456.00,373.79 L456.01,373.28 L456.03,372.82 L456.05,372.38 L456.06,371.98 L456.08,371.61 L456.10,371.27 L456.11,370.94 L456.13,370.63 L456.15,370.34 L456.16,370.06 L456.18,369.80 L456.19,369.55 L456.21,369.31 L456.23,369.07 L456.24,368.85 L456.26,368.63 L456.28,368.42 L456.29,368.21 L456.31,368.02 L455.65,379.36 L455.71,379.42 L455.76,379.49 L455.81,379.59 L455.85,379.71 L455.88,379.84 L455.89,379.99 L455.90,380.16 L455.90,382.13 L455.90,384.10 L455.90,386.08 L455.90,388.05 L455.90,390.02 L455.90,391.99 L455.91,393.97 L455.91,395.94 L455.91,397.91 L455.91,399.88 L455.91,401.86 L455.91,403.83 L455.91,405.80 L455.91,407.77 L455.91,409.75 L455.90,411.72 L455.84,413.69 L455.73,415.66 L455.62,417.64 L455.51,419.61 L455.40,421.58 L455.29,423.55 L455.17,425.53 L455.06,427.50 L455.51,419.35 L455.89,412.37 L455.91,406.38 L455.93,401.23 L455.94,396.81 L455.96,393.01 L455.98,389.74 L455.99,386.91 L456.01,384.46 L456.03,382.34 L456.04,380.51 L456.06,378.90 L456.08,377.51 L456.09,376.30 L456.11,375.23 L456.13,374.29 L456.14,373.46 L456.16,372.72 L456.17,372.06 L456.19,371.48 L456.21,370.96 L456.22,370.48 L456.24,370.05 L456.26,369.66 L456.27,369.31 L456.29,368.97 L456.31,368.67 L456.32,368.39 L456.34,368.12 L456.36,367.87 L456.37,367.63 L456.39,367.41 L456.41,367.20 L456.42,366.99 L456.44,366.80 L456.46,366.61 L456.47,366.43 L456.49,366.25 L456.50,366.09 L456.52,365.92 L455.89,374.94 L455.95,375.00 L456.00,375.08 L456.05,375.19 L456.09,375.31 L456.12,375.46 L456.14,375.62 L456.15,375.80 L456.15,377.95 L456.15,380.11 L456.16,382.26 L456.16,384.41 L456.16,386.57 L456.17,388.72 L456.17,390.88 L456.18,393.03 L456.18,395.19 L456.18,397.34 L456.18,399.49 L456.18,401.65 L456.18,403.80 L456.18,405.96 L456.17,408.11 L456.17,410.27 L456.16,412.42 L456.03,414.57 L455.90,416.73 L455.77,418.88 L455.63,421.04 L455.50,423.19 L455.36,425.35 L455.21,427.50 L455.68,418.99 L456.05,411.71 L456.06,405.47 L456.08,400.12 L456.10,395.53 L456.11,391.60 L456.13,388.22 L456.15,385.31 L456.16,382.80 L456.18,380.63 L456.20,378.77 L456.21,377.15 L456.23,375.74 L456.24,374.52 L456.26,373.46 L456.28,372.53 L456.29,371.71 L456.31,370.99 L456.33,370.35 L456.34,369.79 L456.36,369.28 L456.38,368.83 L456.39,368.42 L456.41,368.05 L456.43,367.71 L456.44,367.41 L456.46,367.13 L456.48,366.86 L456.49,366.61 L456.51,366.39 L456.53,366.17 L456.54,365.97 L456.56,365.77 L456.57,365.59 L456.59,365.41 L456.61,365.24 L456.62,365.07 L456.64,364.91 L456.66,364.76 L456.67,364.61 L455.92,374.30 L455.99,374.36 L456.04,374.44 L456.09,374.55 L456.13,374.68 L456.17,374.83 L456.19,374.99 L456.19,375.17 L456.19,377.35 L456.20,379.53 L456.20,381.71 L456.20,383.89 L456.21,386.07 L456.21,388.25 L456.22,390.43 L456.22,392.61 L456.22,394.79 L456.23,396.97 L456.23,399.15 L456.23,401.33 L456.23,403.51 L456.23,405.69 L456.22,407.88 L456.21,410.06 L456.20,412.24 L456.08,414.42 L455.95,416.60 L455.81,418.78 L455.67,420.96 L455.53,423.14 L455.39,425.32 L455.24,427.50 L455.71,418.93 L456.07,411.60 L456.09,405.32 L456.11,399.95 L456.12,395.33 L456.14,391.38 L456.15,387.98 L456.17,385.06 L456.19,382.54 L456.20,380.38 L456.22,378.50 L456.24,376.88 L456.25,375.48 L456.27,374.26 L456.29,373.19 L456.30,372.26 L456.32,371.44 L456.34,370.73 L456.35,370.09 L456.37,369.53 L456.39,369.03 L456.40,368.58 L456.42,368.17 L456.44,367.80 L456.45,367.47 L456.47,367.17 L456.48,366.88 L456.50,366.62 L456.52,366.38 L456.53,366.16 L456.55,365.94 L456.57,365.74 L456.58,365.55 L456.60,365.37 L456.62,365.19 L456.63,365.02 L456.65,364.86 L456.67,364.70 L456.68,364.55 L456.70,364.39 L456.12,371.35 L456.18,371.41 L456.24,371.50 L456.30,371.61 L456.34,371.75 L456.37,371.90 L456.39,372.07 L456.40,372.26 L456.40,374.56 L456.40,376.87 L456.41,379.17 L456.42,381.47 L456.42,383.77 L456.43,386.07 L456.44,388.37 L456.44,390.68 L456.45,392.98 L456.45,395.28 L456.46,397.58 L456.46,399.88 L456.46,402.18 L456.45,404.48 L456.44,406.79 L456.43,409.09 L456.41,411.39 L456.33,413.69 L456.18,415.99 L456.02,418.29 L455.87,420.60 L455.70,422.90 L455.54,425.20 L455.37,427.50 L455.85,418.67 L456.20,411.12 L456.22,404.67 L456.23,399.15 L456.25,394.43 L456.26,390.39 L456.28,386.92 L456.30,383.95 L456.31,381.39 L456.33,379.19 L456.35,377.30 L456.36,375.66 L456.38,374.25 L456.40,373.03 L456.41,371.96 L456.43,371.03 L456.45,370.22 L456.46,369.51 L456.48,368.89 L456.50,368.33 L456.51,367.84 L456.53,367.40 L456.55,367.01 L456.56,366.65 L456.58,366.33 L456.59,366.04 L456.61,365.77 L456.63,365.52 L456.64,365.28 L456.66,365.07 L456.68,364.87 L456.69,364.67 L456.71,364.49 L456.73,364.31 L456.74,364.15 L456.76,363.99 L456.78,363.83 L456.79,363.68 L456.81,363.53 L456.83,363.38 L456.25,369.53 L456.32,369.60 L456.38,369.69 L456.44,369.81 L456.48,369.95 L456.52,370.11 L456.54,370.29 L456.55,370.49 L456.55,372.86 L456.55,375.24 L456.56,377.61 L456.56,379.99 L456.57,382.36 L456.58,384.74 L456.59,387.12 L456.60,389.49 L456.61,391.87 L456.61,394.24 L456.62,396.62 L456.62,398.99 L456.62,401.37 L456.61,403.74 L456.60,406.12 L456.58,408.50 L456.56,410.87 L456.49,413.25 L456.33,415.62 L456.17,418.00 L456.00,420.37 L455.82,422.75 L455.64,425.12 L455.45,427.50 L455.95,418.51 L456.29,410.83 L456.30,404.27 L456.32,398.67 L456.34,393.88 L456.35,389.77 L456.37,386.26 L456.39,383.26 L456.40,380.67 L456.42,378.45 L456.44,376.55 L456.45,374.90 L456.47,373.48 L456.49,372.25 L456.50,371.19 L456.52,370.26 L456.53,369.45 L456.55,368.74 L456.57,368.12 L456.58,367.57 L456.60,367.08 L456.62,366.65 L456.63,366.26 L456.65,365.91 L456.67,365.59 L456.68,365.30 L456.70,365.04 L456.72,364.79 L456.73,364.56 L456.75,364.35 L456.77,364.15 L456.78,363.96 L456.80,363.78 L456.82,363.61 L456.83,363.45 L456.85,363.29 L456.86,363.13 L456.88,362.98 L456.90,362.84 L456.91,362.69 L456.35,368.38 L456.42,368.45 L456.48,368.55 L456.54,368.67 L456.59,368.81 L456.62,368.98 L456.64,369.16 L456.65,369.36 L456.65,371.78 L456.66,374.21 L456.66,376.63 L456.67,379.05 L456.68,381.47 L456.69,383.90 L456.70,386.32 L456.71,388.74 L456.72,391.16 L456.73,393.59 L456.73,396.01 L456.73,398.43 L456.73,400.85 L456.72,403.28 L456.71,405.70 L456.69,408.12 L456.67,410.54 L456.61,412.97 L456.44,415.39 L456.27,417.81 L456.09,420.23 L455.91,422.66 L455.72,425.08 L455.52,427.50 L456.02,418.40 L456.35,410.62 L456.37,403.98 L456.39,398.31 L456.41,393.45 L456.43,389.30 L456.45,385.75 L456.46,382.70 L456.48,380.08 L456.50,377.83 L456.52,375.89 L456.54,374.23 L456.56,372.78 L456.57,371.53 L456.59,370.45 L456.61,369.51 L456.63,368.68 L456.65,367.96 L456.66,367.33 L456.68,366.77 L456.70,366.27 L456.72,365.82 L456.74,365.42 L456.76,365.06 L456.77,364.74 L456.79,364.44 L456.81,364.16 L456.83,363.91 L456.85,363.67 L456.87,363.44 L456.88,363.23 L456.90,363.03 L456.92,362.84 L456.94,362.66 L456.96,362.48 L456.97,362.31 L456.99,362.14 L457.01,361.98 L457.03,361.83 L457.05,361.67 L456.58,366.06 L456.66,366.13 L456.72,366.23 L456.78,366.36 L456.83,366.51 L456.87,366.69 L456.89,366.88 L456.90,367.09 L456.90,369.61 L456.91,372.13 L456.92,374.65 L456.93,377.16 L456.94,379.68 L456.95,382.20 L456.97,384.71 L456.98,387.23 L456.99,389.75 L457.00,392.26 L457.01,394.78 L457.01,397.30 L457.00,399.81 L456.99,402.33 L456.98,404.85 L456.95,407.36 L456.92,409.88 L456.88,412.40 L456.70,414.92 L456.51,417.43 L456.31,419.95 L456.11,422.47 L455.89,424.98 L455.67,427.50 L456.19,418.16 L456.52,410.18 L456.54,403.35 L456.57,397.52 L456.59,392.52 L456.61,388.24 L456.64,384.57 L456.66,381.43 L456.68,378.72 L456.71,376.39 L456.73,374.39 L456.75,372.65 L456.78,371.15 L456.80,369.84 L456.82,368.71 L456.85,367.71 L456.87,366.84 L456.90,366.07 L456.92,365.39 L456.94,364.79 L456.97,364.24 L456.99,363.76 L457.01,363.32 L457.04,362.92 L457.06,362.55 L457.08,362.22 L457.11,361.91 L457.13,361.62 L457.16,361.35 L457.18,361.09 L457.20,360.86 L457.23,360.63 L457.25,360.41 L457.27,360.21 L457.30,360.01 L457.32,359.82 L457.34,359.64 L457.37,359.46 L457.39,359.29 L457.41,359.13 L456.81,364.11 L456.89,364.18 L456.96,364.29 L457.03,364.43 L457.08,364.59 L457.12,364.77 L457.14,364.98 L457.15,365.21 L457.15,367.80 L457.16,370.40 L457.17,372.99 L457.18,375.59 L457.20,378.19 L457.22,380.78 L457.23,383.38 L457.25,385.97 L457.26,388.57 L457.27,391.16 L457.28,393.76 L457.28,396.35 L457.28,398.95 L457.26,401.54 L457.24,404.14 L457.22,406.74 L457.18,409.33 L457.13,411.93 L456.96,414.52 L456.75,417.12 L456.53,419.71 L456.31,422.31 L456.07,424.90 L455.82,427.50 L456.36,417.95 L456.68,409.78 L456.71,402.79 L456.74,396.81 L456.77,391.69 L456.80,387.29 L456.83,383.52 L456.86,380.28 L456.88,377.49 L456.91,375.08 L456.94,372.99 L456.97,371.19 L457.00,369.62 L457.03,368.25 L457.06,367.06 L457.09,366.02 L457.12,365.10 L457.14,364.28 L457.17,363.57 L457.20,362.93 L457.23,362.35 L457.26,361.84 L457.29,361.37 L457.32,360.95 L457.35,360.56 L457.38,360.21 L457.41,359.89 L457.43,359.59 L457.46,359.30 L457.49,359.05 L457.52,358.80 L457.55,358.57 L457.58,358.35 L457.61,358.14 L457.64,357.94 L457.67,357.75 L457.69,357.56 L457.72,357.39 L457.75,357.22 L457.78,357.06 L456.87,363.63 L456.95,363.71 L457.03,363.82 L457.09,363.95 L457.14,364.12 L457.18,364.31 L457.21,364.52 L457.22,364.75 L457.22,367.36 L457.23,369.98 L457.24,372.59 L457.25,375.21 L457.27,377.82 L457.28,380.44 L457.30,383.05 L457.32,385.67 L457.33,388.28 L457.34,390.89 L457.35,393.51 L457.35,396.12 L457.35,398.74 L457.34,401.35 L457.31,403.97 L457.28,406.58 L457.24,409.20 L457.19,411.81 L457.03,414.43 L456.81,417.04 L456.59,419.66 L456.36,422.27 L456.12,424.89 L455.86,427.50 L456.41,417.89 L456.72,409.68 L456.75,402.65 L456.79,396.64 L456.82,391.48 L456.85,387.06 L456.88,383.25 L456.91,379.99 L456.94,377.17 L456.97,374.74 L457.00,372.64 L457.03,370.81 L457.06,369.23 L457.09,367.85 L457.12,366.65 L457.15,365.59 L457.18,364.66 L457.21,363.84 L457.24,363.12 L457.27,362.47 L457.30,361.89 L457.33,361.37 L457.36,360.90 L457.39,360.48 L457.42,360.09 L457.45,359.74 L457.48,359.41 L457.51,359.11 L457.54,358.83 L457.57,358.56 L457.60,358.32 L457.64,358.09 L457.67,357.87 L457.70,357.66 L457.73,357.47 L457.76,357.28 L457.79,357.09 L457.82,356.91 L457.85,356.75 L457.88,356.59 L457.05,362.32 L457.13,362.40 L457.20,362.51 L457.27,362.66 L457.32,362.83 L457.36,363.02 L457.39,363.24 L457.40,363.48 L457.40,366.15 L457.41,368.82 L457.43,371.48 L457.44,374.15 L457.46,376.82 L457.48,379.49 L457.50,382.15 L457.52,384.82 L457.53,387.49 L457.55,390.16 L457.55,392.82 L457.56,395.49 L457.55,398.16 L457.54,400.83 L457.51,403.49 L457.48,406.16 L457.43,408.83 L457.37,411.50 L457.21,414.16 L456.99,416.83 L456.75,419.50 L456.50,422.17 L456.24,424.83 L455.98,427.50 L456.53,417.75 L456.84,409.41 L456.88,402.27 L456.91,396.15 L456.95,390.90 L456.98,386.39 L457.02,382.51 L457.05,379.18 L457.08,376.30 L457.12,373.81 L457.15,371.66 L457.19,369.80 L457.22,368.18 L457.26,366.77 L457.29,365.54 L457.33,364.46 L457.36,363.51 L457.39,362.67 L457.43,361.93 L457.46,361.27 L457.50,360.69 L457.53,360.16 L457.57,359.69 L457.60,359.26 L457.63,358.87 L457.67,358.51 L457.70,358.18 L457.74,357.89 L457.77,357.61 L457.81,357.34 L457.84,357.10 L457.87,356.87 L457.91,356.66 L457.94,356.45 L457.98,356.26 L458.01,356.07 L458.05,355.90 L458.08,355.72 L458.11,355.56 L458.15,355.40 L457.28,360.63 L457.36,360.71 L457.44,360.83 L457.51,360.98 L457.57,361.16 L457.61,361.37 L457.64,361.60 L457.65,361.85 L457.66,364.59 L457.67,367.32 L457.68,370.06 L457.70,372.79 L457.72,375.53 L457.74,378.26 L457.76,381.00 L457.78,383.73 L457.80,386.47 L457.82,389.20 L457.83,391.94 L457.83,394.68 L457.82,397.41 L457.81,400.15 L457.78,402.88 L457.74,405.62 L457.69,408.35 L457.62,411.09 L457.47,413.82 L457.23,416.56 L456.97,419.29 L456.70,422.03 L456.42,424.76 L456.13,427.50 L456.70,417.57 L457.01,409.06 L457.05,401.76 L457.09,395.51 L457.13,390.14 L457.17,385.53 L457.21,381.56 L457.25,378.14 L457.29,375.20 L457.33,372.65 L457.37,370.45 L457.40,368.54 L457.44,366.89 L457.48,365.45 L457.52,364.19 L457.56,363.09 L457.60,362.12 L457.64,361.28 L457.68,360.52 L457.72,359.86 L457.76,359.27 L457.80,358.74 L457.84,358.26 L457.88,357.83 L457.92,357.44 L457.96,357.09 L458.00,356.77 L458.04,356.47 L458.08,356.19 L458.12,355.93 L458.16,355.70 L458.20,355.47 L458.24,355.25 L458.28,355.05 L458.32,354.86 L458.36,354.67 L458.40,354.49 L458.44,354.32 L458.48,354.15 L458.52,353.99 L457.51,359.11 L457.60,359.19 L457.68,359.32 L457.76,359.47 L457.82,359.66 L457.86,359.88 L457.89,360.12 L457.90,360.39 L457.91,363.18 L457.92,365.98 L457.93,368.77 L457.95,371.57 L457.98,374.37 L458.00,377.16 L458.03,379.96 L458.05,382.76 L458.07,385.55 L458.09,388.35 L458.10,391.15 L458.10,393.94 L458.10,396.74 L458.08,399.54 L458.05,402.33 L458.00,405.13 L457.94,407.92 L457.86,410.72 L457.72,413.52 L457.46,416.31 L457.19,419.11 L456.90,421.91 L456.60,424.70 L456.28,427.50 L456.87,417.39 L457.17,408.72 L457.22,401.29 L457.26,394.91 L457.31,389.44 L457.35,384.73 L457.40,380.69 L457.44,377.20 L457.49,374.20 L457.53,371.61 L457.58,369.37 L457.62,367.43 L457.67,365.75 L457.71,364.29 L457.76,363.02 L457.80,361.90 L457.85,360.93 L457.89,360.08 L457.94,359.32 L457.98,358.65 L458.03,358.06 L458.07,357.53 L458.12,357.05 L458.16,356.63 L458.21,356.24 L458.25,355.88 L458.30,355.56 L458.34,355.26 L458.39,354.98 L458.43,354.71 L458.48,354.47 L458.52,354.24 L458.57,354.02 L458.61,353.82 L458.66,353.62 L458.70,353.43 L458.75,353.25 L458.79,353.08 L458.84,352.91 L458.88,352.74 L457.74,357.77 L457.84,357.86 L457.92,357.99 L458.00,358.15 L458.06,358.35 L458.11,358.58 L458.14,358.83 L458.15,359.11 L458.16,361.96 L458.17,364.81 L458.19,367.66 L458.21,370.51 L458.24,373.35 L458.27,376.20 L458.29,379.05 L458.32,381.90 L458.35,384.75 L458.36,387.60 L458.38,390.45 L458.38,393.30 L458.37,396.15 L458.35,399.00 L458.31,401.85 L458.26,404.70 L458.19,407.55 L458.11,410.40 L457.97,413.25 L457.69,416.10 L457.40,418.95 L457.09,421.80 L456.77,424.65 L456.43,427.50 L457.03,417.22 L457.33,408.40 L457.38,400.84 L457.44,394.36 L457.49,388.79 L457.54,384.01 L457.59,379.90 L457.64,376.37 L457.69,373.32 L457.74,370.69 L457.79,368.42 L457.84,366.46 L457.89,364.76 L457.94,363.28 L457.99,362.00 L458.04,360.88 L458.09,359.90 L458.14,359.04 L458.19,358.28 L458.24,357.60 L458.29,357.01 L458.34,356.47 L458.39,355.99 L458.44,355.55 L458.49,355.16 L458.54,354.80 L458.59,354.47 L458.64,354.17 L458.70,353.88 L458.75,353.62 L458.80,353.37 L458.85,353.14 L458.90,352.92 L458.95,352.71 L459.00,352.51 L459.05,352.32 L459.10,352.13 L459.15,351.95 L459.20,351.78 L459.25,351.61 L458.06,356.22 L458.16,356.31 L458.25,356.45 L458.33,356.63 L458.40,356.84 L458.45,357.08 L458.48,357.34 L458.49,357.64 L458.50,360.55 L458.51,363.46 L458.53,366.37 L458.56,369.28 L458.59,372.19 L458.62,375.10 L458.65,378.01 L458.69,380.93 L458.71,383.84 L458.74,386.75 L458.75,389.66 L458.75,392.57 L458.74,395.48 L458.72,398.39 L458.68,401.30 L458.62,404.21 L458.54,407.12 L458.44,410.03 L458.30,412.95 L458.01,415.86 L457.69,418.77 L457.36,421.68 L457.01,424.59 L456.64,427.50 L457.26,417.01 L457.56,408.02 L457.61,400.31 L457.67,393.70 L457.73,388.03 L457.79,383.16 L457.84,378.97 L457.90,375.38 L457.96,372.28 L458.02,369.62 L458.08,367.31 L458.13,365.33 L458.19,363.60 L458.25,362.10 L458.31,360.80 L458.36,359.67 L458.42,358.67 L458.48,357.79 L458.54,357.02 L458.59,356.33 L458.65,355.73 L458.71,355.18 L458.77,354.69 L458.83,354.25 L458.88,353.85 L458.94,353.48 L459.00,353.15 L459.06,352.84 L459.11,352.55 L459.17,352.28 L459.23,352.03 L459.29,351.79 L459.34,351.57 L459.40,351.35 L459.46,351.15 L459.52,350.95 L459.58,350.76 L459.63,350.58 L459.69,350.40 L459.75,350.23 L459.95,349.61 L460.15,349.10 L460.30,349.18 L460.45,349.31 L460.57,349.50 L460.69,349.75 L460.78,350.05 L460.85,350.39 L460.89,350.77 L460.91,351.18 L460.92,354.36 L460.94,357.54 L460.97,360.72 L461.01,363.90 L461.04,367.08 L461.09,370.26 L461.13,373.44 L461.17,376.62 L461.20,379.80 L461.23,382.98 L461.25,386.16 L461.25,389.34 L461.24,392.52 L461.20,395.70 L461.15,398.88 L461.07,402.06 L460.97,405.24 L460.84,408.42 L460.69,411.60 L460.39,414.78 L460.02,417.96 L459.62,421.14 L459.19,424.32 L458.75,427.50 L459.45,415.78 L459.70,405.79 L459.77,397.26 L459.85,389.99 L459.92,383.78 L460.00,378.47 L460.07,373.93 L460.15,370.05 L460.22,366.72 L460.30,363.87 L460.37,361.42 L460.45,359.31 L460.52,357.49 L460.60,355.92 L460.67,354.55 L460.75,353.36 L460.82,352.33 L460.90,351.42 L460.97,350.62 L461.05,349.92 L461.12,349.30 L461.20,348.74 L461.27,348.24 L461.35,347.80 L461.42,347.39 L461.50,347.03 L461.57,346.69 L461.64,346.39 L461.72,346.10 L461.79,345.84 L461.87,345.59 L461.94,345.37 L462.02,345.15 L462.09,344.95 L462.17,344.76 L462.24,344.57 L462.32,344.40 L462.39,344.23 L462.47,344.07 L462.54,343.92 L463.44,342.32 L464.34,341.02 L464.57,341.14 L464.79,341.35 L464.99,341.65 L465.17,342.03 L465.31,342.49 L465.42,343.02 L465.49,343.61 L465.51,344.25 L465.53,347.72 L465.56,351.19 L465.60,354.66 L465.64,358.13 L465.70,361.60 L465.75,365.06 L465.80,368.53 L465.86,372.00 L465.90,375.47 L465.93,378.94 L465.95,382.41 L465.95,385.88 L465.93,389.34 L465.89,392.81 L465.81,396.28 L465.71,399.75 L465.58,403.22 L465.41,406.69 L465.21,410.16 L464.92,413.63 L464.47,417.09 L463.99,420.56 L463.47,424.03 L462.94,427.50 L463.73,414.46 L463.93,403.36 L464.03,393.91 L464.13,385.86 L464.22,379.01 L464.32,373.17 L464.42,368.19 L464.52,363.94 L464.61,360.31 L464.71,357.20 L464.81,354.54 L464.91,352.26 L465.00,350.31 L465.10,348.63 L465.20,347.18 L465.30,345.93 L465.39,344.85 L465.49,343.91 L465.59,343.09 L465.69,342.37 L465.78,341.75 L465.88,341.20 L465.98,340.71 L466.08,340.27 L466.18,339.88 L466.27,339.54 L466.37,339.22 L466.47,338.94 L466.57,338.67 L466.66,338.43 L466.76,338.21 L466.86,338.00 L466.96,337.81 L467.05,337.63 L467.15,337.45 L467.25,337.28 L467.35,337.13 L467.44,336.98 L467.54,336.84 L467.64,336.70 L468.39,335.67 L469.10,334.84 L469.81,334.07 L470.53,333.37 L471.25,332.73 L471.98,332.13 L472.39,332.32 L472.78,332.67 L473.16,333.18 L473.50,333.82 L473.80,334.59 L474.05,335.48 L474.21,336.47 L474.25,337.54 L474.30,341.29 L474.34,345.04 L474.40,348.79 L474.47,352.54 L474.55,356.28 L474.63,360.03 L474.70,363.78 L474.77,367.53 L474.83,371.28 L474.87,375.02 L474.89,378.77 L474.88,382.52 L474.84,386.27 L474.77,390.02 L474.66,393.77 L474.51,397.51 L474.32,401.26 L474.07,405.01 L473.79,408.76 L473.45,412.51 L472.87,416.26 L472.25,420.00 L471.59,423.75 L470.89,427.50 L471.80,413.05 L471.97,400.76 L472.11,390.32 L472.25,381.44 L472.39,373.88 L472.53,367.45 L472.67,361.98 L472.81,357.32 L472.96,353.34 L473.10,349.96 L473.24,347.07 L473.38,344.60 L473.52,342.49 L473.66,340.68 L473.80,339.14 L473.94,337.81 L474.08,336.67 L474.20,335.68 L474.27,334.83 L474.35,334.10 L474.44,333.46 L474.54,332.91 L474.64,332.42 L474.75,332.00 L474.86,331.62 L474.97,331.29 L475.09,330.99 L475.21,330.73 L475.33,330.50 L475.46,330.28 L475.58,330.09 L475.71,329.91 L475.84,329.75 L475.96,329.59 L476.09,329.46 L476.22,329.33 L476.36,329.20 L476.49,329.09 L476.62,328.98 L476.75,328.87 L477.43,328.33 L478.12,327.94 L478.81,327.57 L479.50,327.21 L480.19,326.86 L480.88,326.53 L481.58,326.21 L482.28,325.90 L483.00,325.60 L483.72,325.31 L484.44,325.02 L485.16,324.74 L485.88,324.47 L486.60,324.21 L487.29,324.43 L487.94,324.86 L488.53,325.46 L489.06,326.24 L489.55,327.16 L489.96,328.23 L490.26,329.41 L490.43,330.71 L490.84,334.74 L491.02,338.77 L491.11,342.81 L491.22,346.84 L491.34,350.87 L491.46,354.91 L491.58,358.94 L491.69,362.97 L491.78,367.00 L491.84,371.04 L491.87,375.07 L491.85,379.10 L491.79,383.14 L491.67,387.17 L491.50,391.20 L491.25,395.24 L490.94,399.27 L490.56,403.30 L490.10,407.33 L489.58,411.37 L488.83,415.40 L487.94,419.43 L487.00,423.47 L486.00,427.50 L487.02,411.81 L487.24,398.48 L487.47,387.16 L487.69,377.54 L487.91,369.37 L488.14,362.42 L488.36,356.52 L488.58,351.49 L488.80,347.22 L489.03,343.58 L489.25,340.48 L489.47,337.83 L489.66,335.58 L489.73,333.66 L489.82,332.02 L489.94,330.61 L490.06,329.41 L490.20,328.38 L490.35,327.49 L490.52,326.73 L490.69,326.07 L490.90,325.50 L491.13,325.00 L491.35,324.57 L491.57,324.20 L491.80,323.87 L492.02,323.58 L492.24,323.32 L492.47,323.09 L492.69,322.88 L492.91,322.70 L493.13,322.53 L493.36,322.38 L493.58,322.24 L493.80,322.11 L494.03,321.99 L494.25,321.88 L494.47,321.77 L494.70,321.67 L494.92,321.58 L495.62,321.21 L496.32,320.99 L497.03,320.78 L497.73,320.57 L498.43,320.35 L499.14,320.15 L499.84,319.94 L500.54,319.73 L501.25,319.52 L501.95,319.32 L502.65,319.12 L503.35,318.92 L504.06,318.72 L504.76,318.52 L505.46,318.33 L506.17,318.13 L506.87,317.94 L507.57,317.75 L508.28,317.56 L508.98,317.37 L509.68,317.18 L510.38,317.00 L511.09,316.81 L511.79,316.63 L512.49,316.46 L513.20,316.28 L513.90,316.10 L514.60,315.94 L515.31,315.77 L516.57,316.00 L517.75,316.42 L518.82,317.03 L519.75,317.80 L520.52,318.73 L521.10,319.79 L521.47,320.98 L521.60,322.27 L521.79,326.65 L522.27,331.04 L522.78,335.42 L523.01,339.81 L523.21,344.19 L523.42,348.58 L523.62,352.96 L523.81,357.35 L523.96,361.73 L524.07,366.12 L524.12,370.50 L524.10,374.89 L524.00,379.27 L523.81,383.65 L523.51,388.04 L523.10,392.42 L522.57,396.81 L521.92,401.19 L521.15,405.58 L520.25,409.96 L519.13,414.35 L517.76,418.73 L516.28,423.12 L514.71,427.50 L515.89,410.51 L516.26,396.08 L516.64,383.83 L517.02,373.42 L517.40,364.57 L517.78,357.05 L518.16,350.66 L518.54,345.22 L518.92,340.59 L519.30,336.66 L519.46,333.31 L519.61,330.46 L519.80,328.02 L520.01,325.95 L520.39,324.17 L520.77,322.66 L521.15,321.37 L521.53,320.26 L521.91,319.31 L522.29,318.49 L522.67,317.78 L523.05,317.17 L523.43,316.65 L523.81,316.19 L524.19,315.79 L524.56,315.45 L524.94,315.14 L525.32,314.87 L525.70,314.64 L526.08,314.42 L526.46,314.24 L526.84,314.06 L527.22,313.91 L527.60,313.77 L527.98,313.64 L528.36,313.52 L528.74,313.41 L529.11,313.31 L529.49,313.21 L529.87,313.12 L530.94,312.79 L532.00,312.61 L533.06,312.44 L534.12,312.26 L535.19,312.09 L536.25,311.91 L537.31,311.72 L538.37,311.60 L539.44,311.60 L540.50,311.60" fill="none" stroke="#222" stroke-width="0.8" stroke-linejoin="round"/>
</g>
<polyline points="454.8,426.0 454.8,425.3 454.8,424.4 454.8,423.2 454.8,422.0 454.8,420.7 454.8,419.4 454.8,418.1 454.8,416.7 454.8,415.3 454.8,413.9 454.8,412.4 454.8,411.0 454.8,409.6 454.8,408.2 454.8,406.8 454.8,405.4 454.8,404.0 454.8,402.7 454.8,401.4 454.8,400.1 454.8,398.9 454.8,397.6 454.8,396.3 454.8,395.0 454.8,393.7 454.8,392.3 454.8,390.9 454.8,389.5 454.8,388.1 454.8,386.7 454.8,385.3 454.8,383.9 454.8,382.5 454.7,381.1 454.8,379.7 454.8,378.4 454.9,377.1 455.0,375.8 455.1,374.6 455.2,373.3 455.4,372.1 455.5,370.8 455.6,369.5 455.8,368.2 455.9,366.9 456.0,365.6 456.2,364.3 456.3,363.0 456.4,361.7 456.5,360.3 456.6,358.9 456.8,357.5 457.0,356.1 457.3,354.8 457.7,353.5 458.3,352.2 458.9,350.9 459.5,349.6 460.2,348.3 460.8,347.0 461.3,345.6 461.8,344.2 462.2,342.7 462.7,341.3 463.4,339.9 464.2,338.5 465.2,337.2 466.3,335.9 467.6,334.7 469.0,333.5 470.6,332.2 472.3,330.9 474.1,329.6 476.0,328.2 478.0,326.8 480.3,325.4 483.0,323.9 486.3,322.5 490.3,321.0 495.0,319.3 500.2,317.7 505.4,316.1 510.5,314.7 515.1,313.6 519.5,312.8 523.8,312.2 528.1,311.7 531.9,311.4 535.0,311.2 537.4,311.0" fill="none" stroke="#f01515" stroke-width="1.35" stroke-dasharray="1.4,1.5"/>
<path d="M454.8,417.2 L457.0,421.09999999999997 L452.6,421.09999999999997 Z" fill="#fff" stroke="#f01515" stroke-width="1.2"/>
<path d="M454.8,408.8 L457.0,412.7 L452.6,412.7 Z" fill="#fff" stroke="#f01515" stroke-width="1.2"/>
<path d="M454.8,400.5 L457.0,404.4 L452.6,404.4 Z" fill="#fff" stroke="#f01515" stroke-width="1.2"/>
<path d="M454.8,392.8 L457.0,396.7 L452.6,396.7 Z" fill="#fff" stroke="#f01515" stroke-width="1.2"/>
<path d="M454.8,384.5 L457.0,388.4 L452.6,388.4 Z" fill="#fff" stroke="#f01515" stroke-width="1.2"/>
<path d="M454.8,376.2 L457.0,380.09999999999997 L452.6,380.09999999999997 Z" fill="#fff" stroke="#f01515" stroke-width="1.2"/>
<path d="M455.5,368.6 L457.7,372.5 L453.3,372.5 Z" fill="#fff" stroke="#f01515" stroke-width="1.2"/>
<path d="M456.3,360.8 L458.5,364.7 L454.1,364.7 Z" fill="#fff" stroke="#f01515" stroke-width="1.2"/>
<path d="M457.3,352.6 L459.5,356.5 L455.1,356.5 Z" fill="#fff" stroke="#f01515" stroke-width="1.2"/>
<path d="M460.8,344.8 L463.0,348.7 L458.6,348.7 Z" fill="#fff" stroke="#f01515" stroke-width="1.2"/>
<path d="M464.2,336.3 L466.4,340.2 L462.0,340.2 Z" fill="#fff" stroke="#f01515" stroke-width="1.2"/>
<path d="M472.3,328.7 L474.5,332.59999999999997 L470.1,332.59999999999997 Z" fill="#fff" stroke="#f01515" stroke-width="1.2"/>
<path d="M486.3,320.3 L488.5,324.2 L484.1,324.2 Z" fill="#fff" stroke="#f01515" stroke-width="1.2"/>
<path d="M515.1,311.40000000000003 L517.3000000000001,315.3 L512.9,315.3 Z" fill="#fff" stroke="#f01515" stroke-width="1.2"/>
<rect x="412" y="260.3" width="123.2" height="22.2" fill="#fff" stroke="#111" stroke-width="1.1"/>
<rect x="420.1" y="264.2" width="3.9" height="3.9" fill="#000"/>
<text x="432.9" y="268.9" font-size="7.7" font-weight="normal" text-anchor="start" fill="#111" textLength="72.8" lengthAdjust="spacingAndGlyphs" stroke="#111" stroke-width="0.22">cyclic LUR tensile test</text>
<line x1="412.8" y1="275.8" x2="431.5" y2="275.8" stroke="#f01515" stroke-width="1.2" stroke-dasharray="1.3,1.4"/>
<path d="M421.9,273.2 L424.2,277 L419.6,277 Z" fill="#fff" stroke="#f01515" stroke-width="1.2"/>
<text x="432.9" y="278.7" font-size="7.7" font-weight="normal" text-anchor="start" fill="#111" textLength="99.3" lengthAdjust="spacingAndGlyphs" stroke="#111" stroke-width="0.22">continuous stress-strain-curve</text>
<text transform="translate(308,346) rotate(-90)" font-size="13.2" text-anchor="middle" fill="#111" stroke="#111" stroke-width="0.22">true stress σ / MPa</text>
<text x="336.4" y="450.4" font-size="13.3" fill="#111" stroke="#111" stroke-width="0.22">normalized plastic strain ε<tspan font-size="9" dy="3.5">pl,nl</tspan><tspan dy="-3.5"> / -</tspan></text>
</svg>
</body></html>
